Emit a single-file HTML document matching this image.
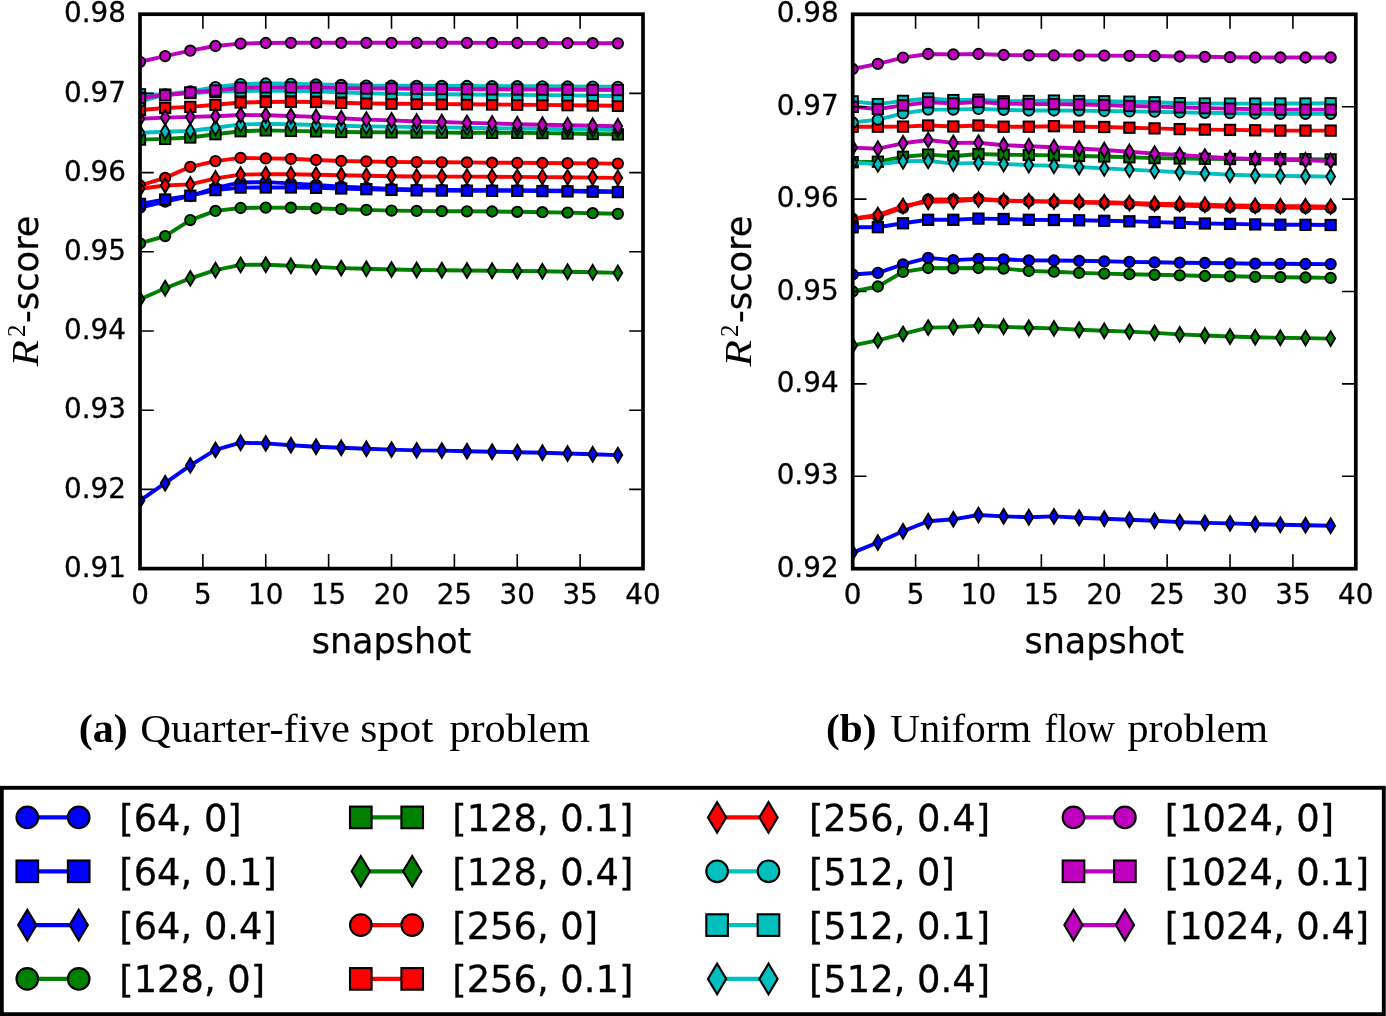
<!DOCTYPE html>
<html lang="en"><head><meta charset="utf-8"><title>R2-score vs snapshot</title>
<style>html,body{margin:0;padding:0;background:#fff}body{width:1386px;height:1016px;overflow:hidden}svg{display:block}</style></head>
<body>
<svg width="1386" height="1016" viewBox="0 0 1386 1016">
<rect width="1386" height="1016" fill="#fff"/>
<clipPath id="clip1"><rect x="140" y="14.2" width="503" height="554.4"/></clipPath>
<g clip-path="url(#clip1)">
<polyline points="140,207.6 165.15,201.7 190.3,196 215.45,187.8 240.6,182.5 265.75,182.1 290.9,183.4 316.05,184.9 341.2,186.6 366.35,187.8 391.5,188.9 416.65,189.5 441.8,189.9 466.95,190 492.1,190.1 517.25,190.2 542.4,190.4 567.55,190.7 592.7,191 617.85,191.4" fill="none" stroke="#0000ff" stroke-width="3.9" stroke-linejoin="round"/>
<g><circle cx="140" cy="207.6" r="5.2" fill="#0000ff" stroke="#000" stroke-width="1.9"/><circle cx="165.15" cy="201.7" r="5.2" fill="#0000ff" stroke="#000" stroke-width="1.9"/><circle cx="190.3" cy="196" r="5.2" fill="#0000ff" stroke="#000" stroke-width="1.9"/><circle cx="215.45" cy="187.8" r="5.2" fill="#0000ff" stroke="#000" stroke-width="1.9"/><circle cx="240.6" cy="182.5" r="5.2" fill="#0000ff" stroke="#000" stroke-width="1.9"/><circle cx="265.75" cy="182.1" r="5.2" fill="#0000ff" stroke="#000" stroke-width="1.9"/><circle cx="290.9" cy="183.4" r="5.2" fill="#0000ff" stroke="#000" stroke-width="1.9"/><circle cx="316.05" cy="184.9" r="5.2" fill="#0000ff" stroke="#000" stroke-width="1.9"/><circle cx="341.2" cy="186.6" r="5.2" fill="#0000ff" stroke="#000" stroke-width="1.9"/><circle cx="366.35" cy="187.8" r="5.2" fill="#0000ff" stroke="#000" stroke-width="1.9"/><circle cx="391.5" cy="188.9" r="5.2" fill="#0000ff" stroke="#000" stroke-width="1.9"/><circle cx="416.65" cy="189.5" r="5.2" fill="#0000ff" stroke="#000" stroke-width="1.9"/><circle cx="441.8" cy="189.9" r="5.2" fill="#0000ff" stroke="#000" stroke-width="1.9"/><circle cx="466.95" cy="190" r="5.2" fill="#0000ff" stroke="#000" stroke-width="1.9"/><circle cx="492.1" cy="190.1" r="5.2" fill="#0000ff" stroke="#000" stroke-width="1.9"/><circle cx="517.25" cy="190.2" r="5.2" fill="#0000ff" stroke="#000" stroke-width="1.9"/><circle cx="542.4" cy="190.4" r="5.2" fill="#0000ff" stroke="#000" stroke-width="1.9"/><circle cx="567.55" cy="190.7" r="5.2" fill="#0000ff" stroke="#000" stroke-width="1.9"/><circle cx="592.7" cy="191" r="5.2" fill="#0000ff" stroke="#000" stroke-width="1.9"/><circle cx="617.85" cy="191.4" r="5.2" fill="#0000ff" stroke="#000" stroke-width="1.9"/></g>
<polyline points="140,203.9 165.15,199.5 190.3,195.7 215.45,190.1 240.6,187.6 265.75,187.5 290.9,187.5 316.05,187.8 341.2,188.5 366.35,189.2 391.5,189.9 416.65,190.4 441.8,190.6 466.95,190.7 492.1,190.8 517.25,190.9 542.4,191.1 567.55,191.4 592.7,191.7 617.85,192.1" fill="none" stroke="#0000ff" stroke-width="3.9" stroke-linejoin="round"/>
<g><rect x="134.8" y="198.7" width="10.4" height="10.4" fill="#0000ff" stroke="#000" stroke-width="1.9"/><rect x="159.95" y="194.3" width="10.4" height="10.4" fill="#0000ff" stroke="#000" stroke-width="1.9"/><rect x="185.1" y="190.5" width="10.4" height="10.4" fill="#0000ff" stroke="#000" stroke-width="1.9"/><rect x="210.25" y="184.9" width="10.4" height="10.4" fill="#0000ff" stroke="#000" stroke-width="1.9"/><rect x="235.4" y="182.4" width="10.4" height="10.4" fill="#0000ff" stroke="#000" stroke-width="1.9"/><rect x="260.55" y="182.3" width="10.4" height="10.4" fill="#0000ff" stroke="#000" stroke-width="1.9"/><rect x="285.7" y="182.3" width="10.4" height="10.4" fill="#0000ff" stroke="#000" stroke-width="1.9"/><rect x="310.85" y="182.6" width="10.4" height="10.4" fill="#0000ff" stroke="#000" stroke-width="1.9"/><rect x="336" y="183.3" width="10.4" height="10.4" fill="#0000ff" stroke="#000" stroke-width="1.9"/><rect x="361.15" y="184" width="10.4" height="10.4" fill="#0000ff" stroke="#000" stroke-width="1.9"/><rect x="386.3" y="184.7" width="10.4" height="10.4" fill="#0000ff" stroke="#000" stroke-width="1.9"/><rect x="411.45" y="185.2" width="10.4" height="10.4" fill="#0000ff" stroke="#000" stroke-width="1.9"/><rect x="436.6" y="185.4" width="10.4" height="10.4" fill="#0000ff" stroke="#000" stroke-width="1.9"/><rect x="461.75" y="185.5" width="10.4" height="10.4" fill="#0000ff" stroke="#000" stroke-width="1.9"/><rect x="486.9" y="185.6" width="10.4" height="10.4" fill="#0000ff" stroke="#000" stroke-width="1.9"/><rect x="512.05" y="185.7" width="10.4" height="10.4" fill="#0000ff" stroke="#000" stroke-width="1.9"/><rect x="537.2" y="185.9" width="10.4" height="10.4" fill="#0000ff" stroke="#000" stroke-width="1.9"/><rect x="562.35" y="186.2" width="10.4" height="10.4" fill="#0000ff" stroke="#000" stroke-width="1.9"/><rect x="587.5" y="186.5" width="10.4" height="10.4" fill="#0000ff" stroke="#000" stroke-width="1.9"/><rect x="612.65" y="186.9" width="10.4" height="10.4" fill="#0000ff" stroke="#000" stroke-width="1.9"/></g>
<polyline points="140,500.6 165.15,483.2 190.3,465.4 215.45,449.9 240.6,442.7 265.75,443.4 290.9,445.2 316.05,446.7 341.2,447.8 366.35,448.8 391.5,449.6 416.65,450.4 441.8,450.6 466.95,451.2 492.1,451.7 517.25,452.2 542.4,452.7 567.55,453.5 592.7,454.3 617.85,455.1" fill="none" stroke="#0000ff" stroke-width="3.9" stroke-linejoin="round"/>
<g><path d="M140 493.25L144.41 500.6L140 507.95L135.59 500.6Z" stroke-linejoin="miter" fill="#0000ff" stroke="#000" stroke-width="1.9"/><path d="M165.15 475.85L169.56 483.2L165.15 490.55L160.74 483.2Z" stroke-linejoin="miter" fill="#0000ff" stroke="#000" stroke-width="1.9"/><path d="M190.3 458.05L194.71 465.4L190.3 472.75L185.89 465.4Z" stroke-linejoin="miter" fill="#0000ff" stroke="#000" stroke-width="1.9"/><path d="M215.45 442.55L219.86 449.9L215.45 457.25L211.04 449.9Z" stroke-linejoin="miter" fill="#0000ff" stroke="#000" stroke-width="1.9"/><path d="M240.6 435.35L245.01 442.7L240.6 450.05L236.19 442.7Z" stroke-linejoin="miter" fill="#0000ff" stroke="#000" stroke-width="1.9"/><path d="M265.75 436.05L270.16 443.4L265.75 450.75L261.34 443.4Z" stroke-linejoin="miter" fill="#0000ff" stroke="#000" stroke-width="1.9"/><path d="M290.9 437.85L295.31 445.2L290.9 452.55L286.49 445.2Z" stroke-linejoin="miter" fill="#0000ff" stroke="#000" stroke-width="1.9"/><path d="M316.05 439.35L320.46 446.7L316.05 454.05L311.64 446.7Z" stroke-linejoin="miter" fill="#0000ff" stroke="#000" stroke-width="1.9"/><path d="M341.2 440.45L345.61 447.8L341.2 455.15L336.79 447.8Z" stroke-linejoin="miter" fill="#0000ff" stroke="#000" stroke-width="1.9"/><path d="M366.35 441.45L370.76 448.8L366.35 456.15L361.94 448.8Z" stroke-linejoin="miter" fill="#0000ff" stroke="#000" stroke-width="1.9"/><path d="M391.5 442.25L395.91 449.6L391.5 456.95L387.09 449.6Z" stroke-linejoin="miter" fill="#0000ff" stroke="#000" stroke-width="1.9"/><path d="M416.65 443.05L421.06 450.4L416.65 457.75L412.24 450.4Z" stroke-linejoin="miter" fill="#0000ff" stroke="#000" stroke-width="1.9"/><path d="M441.8 443.25L446.21 450.6L441.8 457.95L437.39 450.6Z" stroke-linejoin="miter" fill="#0000ff" stroke="#000" stroke-width="1.9"/><path d="M466.95 443.85L471.36 451.2L466.95 458.55L462.54 451.2Z" stroke-linejoin="miter" fill="#0000ff" stroke="#000" stroke-width="1.9"/><path d="M492.1 444.35L496.51 451.7L492.1 459.05L487.69 451.7Z" stroke-linejoin="miter" fill="#0000ff" stroke="#000" stroke-width="1.9"/><path d="M517.25 444.85L521.66 452.2L517.25 459.55L512.84 452.2Z" stroke-linejoin="miter" fill="#0000ff" stroke="#000" stroke-width="1.9"/><path d="M542.4 445.35L546.81 452.7L542.4 460.05L537.99 452.7Z" stroke-linejoin="miter" fill="#0000ff" stroke="#000" stroke-width="1.9"/><path d="M567.55 446.15L571.96 453.5L567.55 460.85L563.14 453.5Z" stroke-linejoin="miter" fill="#0000ff" stroke="#000" stroke-width="1.9"/><path d="M592.7 446.95L597.11 454.3L592.7 461.65L588.29 454.3Z" stroke-linejoin="miter" fill="#0000ff" stroke="#000" stroke-width="1.9"/><path d="M617.85 447.75L622.26 455.1L617.85 462.45L613.44 455.1Z" stroke-linejoin="miter" fill="#0000ff" stroke="#000" stroke-width="1.9"/></g>
<polyline points="140,243.4 165.15,236.1 190.3,220.1 215.45,210.9 240.6,208 265.75,207.6 290.9,207.7 316.05,208.3 341.2,209.2 366.35,209.9 391.5,210.6 416.65,210.9 441.8,211.2 466.95,211.3 492.1,211.5 517.25,211.8 542.4,212.2 567.55,212.6 592.7,213.2 617.85,213.8" fill="none" stroke="#008000" stroke-width="3.9" stroke-linejoin="round"/>
<g><circle cx="140" cy="243.4" r="5.2" fill="#008000" stroke="#000" stroke-width="1.9"/><circle cx="165.15" cy="236.1" r="5.2" fill="#008000" stroke="#000" stroke-width="1.9"/><circle cx="190.3" cy="220.1" r="5.2" fill="#008000" stroke="#000" stroke-width="1.9"/><circle cx="215.45" cy="210.9" r="5.2" fill="#008000" stroke="#000" stroke-width="1.9"/><circle cx="240.6" cy="208" r="5.2" fill="#008000" stroke="#000" stroke-width="1.9"/><circle cx="265.75" cy="207.6" r="5.2" fill="#008000" stroke="#000" stroke-width="1.9"/><circle cx="290.9" cy="207.7" r="5.2" fill="#008000" stroke="#000" stroke-width="1.9"/><circle cx="316.05" cy="208.3" r="5.2" fill="#008000" stroke="#000" stroke-width="1.9"/><circle cx="341.2" cy="209.2" r="5.2" fill="#008000" stroke="#000" stroke-width="1.9"/><circle cx="366.35" cy="209.9" r="5.2" fill="#008000" stroke="#000" stroke-width="1.9"/><circle cx="391.5" cy="210.6" r="5.2" fill="#008000" stroke="#000" stroke-width="1.9"/><circle cx="416.65" cy="210.9" r="5.2" fill="#008000" stroke="#000" stroke-width="1.9"/><circle cx="441.8" cy="211.2" r="5.2" fill="#008000" stroke="#000" stroke-width="1.9"/><circle cx="466.95" cy="211.3" r="5.2" fill="#008000" stroke="#000" stroke-width="1.9"/><circle cx="492.1" cy="211.5" r="5.2" fill="#008000" stroke="#000" stroke-width="1.9"/><circle cx="517.25" cy="211.8" r="5.2" fill="#008000" stroke="#000" stroke-width="1.9"/><circle cx="542.4" cy="212.2" r="5.2" fill="#008000" stroke="#000" stroke-width="1.9"/><circle cx="567.55" cy="212.6" r="5.2" fill="#008000" stroke="#000" stroke-width="1.9"/><circle cx="592.7" cy="213.2" r="5.2" fill="#008000" stroke="#000" stroke-width="1.9"/><circle cx="617.85" cy="213.8" r="5.2" fill="#008000" stroke="#000" stroke-width="1.9"/></g>
<polyline points="140,139.6 165.15,138.9 190.3,137.5 215.45,134.2 240.6,131.2 265.75,130.4 290.9,130.9 316.05,131.4 341.2,132 366.35,132.3 391.5,132.4 416.65,132.5 441.8,132.6 466.95,132.7 492.1,132.8 517.25,132.8 542.4,133.1 567.55,133.5 592.7,134 617.85,134.4" fill="none" stroke="#008000" stroke-width="3.9" stroke-linejoin="round"/>
<g><rect x="134.8" y="134.4" width="10.4" height="10.4" fill="#008000" stroke="#000" stroke-width="1.9"/><rect x="159.95" y="133.7" width="10.4" height="10.4" fill="#008000" stroke="#000" stroke-width="1.9"/><rect x="185.1" y="132.3" width="10.4" height="10.4" fill="#008000" stroke="#000" stroke-width="1.9"/><rect x="210.25" y="129" width="10.4" height="10.4" fill="#008000" stroke="#000" stroke-width="1.9"/><rect x="235.4" y="126" width="10.4" height="10.4" fill="#008000" stroke="#000" stroke-width="1.9"/><rect x="260.55" y="125.2" width="10.4" height="10.4" fill="#008000" stroke="#000" stroke-width="1.9"/><rect x="285.7" y="125.7" width="10.4" height="10.4" fill="#008000" stroke="#000" stroke-width="1.9"/><rect x="310.85" y="126.2" width="10.4" height="10.4" fill="#008000" stroke="#000" stroke-width="1.9"/><rect x="336" y="126.8" width="10.4" height="10.4" fill="#008000" stroke="#000" stroke-width="1.9"/><rect x="361.15" y="127.1" width="10.4" height="10.4" fill="#008000" stroke="#000" stroke-width="1.9"/><rect x="386.3" y="127.2" width="10.4" height="10.4" fill="#008000" stroke="#000" stroke-width="1.9"/><rect x="411.45" y="127.3" width="10.4" height="10.4" fill="#008000" stroke="#000" stroke-width="1.9"/><rect x="436.6" y="127.4" width="10.4" height="10.4" fill="#008000" stroke="#000" stroke-width="1.9"/><rect x="461.75" y="127.5" width="10.4" height="10.4" fill="#008000" stroke="#000" stroke-width="1.9"/><rect x="486.9" y="127.6" width="10.4" height="10.4" fill="#008000" stroke="#000" stroke-width="1.9"/><rect x="512.05" y="127.6" width="10.4" height="10.4" fill="#008000" stroke="#000" stroke-width="1.9"/><rect x="537.2" y="127.9" width="10.4" height="10.4" fill="#008000" stroke="#000" stroke-width="1.9"/><rect x="562.35" y="128.3" width="10.4" height="10.4" fill="#008000" stroke="#000" stroke-width="1.9"/><rect x="587.5" y="128.8" width="10.4" height="10.4" fill="#008000" stroke="#000" stroke-width="1.9"/><rect x="612.65" y="129.2" width="10.4" height="10.4" fill="#008000" stroke="#000" stroke-width="1.9"/></g>
<polyline points="140,299.3 165.15,288.2 190.3,278.4 215.45,270.1 240.6,264.9 265.75,264.7 290.9,265.8 316.05,266.9 341.2,268.1 366.35,268.8 391.5,269.5 416.65,270 441.8,270.2 466.95,270.5 492.1,270.8 517.25,271 542.4,271.3 567.55,271.7 592.7,272.3 617.85,272.9" fill="none" stroke="#008000" stroke-width="3.9" stroke-linejoin="round"/>
<g><path d="M140 291.95L144.41 299.3L140 306.65L135.59 299.3Z" stroke-linejoin="miter" fill="#008000" stroke="#000" stroke-width="1.9"/><path d="M165.15 280.85L169.56 288.2L165.15 295.55L160.74 288.2Z" stroke-linejoin="miter" fill="#008000" stroke="#000" stroke-width="1.9"/><path d="M190.3 271.05L194.71 278.4L190.3 285.75L185.89 278.4Z" stroke-linejoin="miter" fill="#008000" stroke="#000" stroke-width="1.9"/><path d="M215.45 262.75L219.86 270.1L215.45 277.45L211.04 270.1Z" stroke-linejoin="miter" fill="#008000" stroke="#000" stroke-width="1.9"/><path d="M240.6 257.55L245.01 264.9L240.6 272.25L236.19 264.9Z" stroke-linejoin="miter" fill="#008000" stroke="#000" stroke-width="1.9"/><path d="M265.75 257.35L270.16 264.7L265.75 272.05L261.34 264.7Z" stroke-linejoin="miter" fill="#008000" stroke="#000" stroke-width="1.9"/><path d="M290.9 258.45L295.31 265.8L290.9 273.15L286.49 265.8Z" stroke-linejoin="miter" fill="#008000" stroke="#000" stroke-width="1.9"/><path d="M316.05 259.55L320.46 266.9L316.05 274.25L311.64 266.9Z" stroke-linejoin="miter" fill="#008000" stroke="#000" stroke-width="1.9"/><path d="M341.2 260.75L345.61 268.1L341.2 275.45L336.79 268.1Z" stroke-linejoin="miter" fill="#008000" stroke="#000" stroke-width="1.9"/><path d="M366.35 261.45L370.76 268.8L366.35 276.15L361.94 268.8Z" stroke-linejoin="miter" fill="#008000" stroke="#000" stroke-width="1.9"/><path d="M391.5 262.15L395.91 269.5L391.5 276.85L387.09 269.5Z" stroke-linejoin="miter" fill="#008000" stroke="#000" stroke-width="1.9"/><path d="M416.65 262.65L421.06 270L416.65 277.35L412.24 270Z" stroke-linejoin="miter" fill="#008000" stroke="#000" stroke-width="1.9"/><path d="M441.8 262.85L446.21 270.2L441.8 277.55L437.39 270.2Z" stroke-linejoin="miter" fill="#008000" stroke="#000" stroke-width="1.9"/><path d="M466.95 263.15L471.36 270.5L466.95 277.85L462.54 270.5Z" stroke-linejoin="miter" fill="#008000" stroke="#000" stroke-width="1.9"/><path d="M492.1 263.45L496.51 270.8L492.1 278.15L487.69 270.8Z" stroke-linejoin="miter" fill="#008000" stroke="#000" stroke-width="1.9"/><path d="M517.25 263.65L521.66 271L517.25 278.35L512.84 271Z" stroke-linejoin="miter" fill="#008000" stroke="#000" stroke-width="1.9"/><path d="M542.4 263.95L546.81 271.3L542.4 278.65L537.99 271.3Z" stroke-linejoin="miter" fill="#008000" stroke="#000" stroke-width="1.9"/><path d="M567.55 264.35L571.96 271.7L567.55 279.05L563.14 271.7Z" stroke-linejoin="miter" fill="#008000" stroke="#000" stroke-width="1.9"/><path d="M592.7 264.95L597.11 272.3L592.7 279.65L588.29 272.3Z" stroke-linejoin="miter" fill="#008000" stroke="#000" stroke-width="1.9"/><path d="M617.85 265.55L622.26 272.9L617.85 280.25L613.44 272.9Z" stroke-linejoin="miter" fill="#008000" stroke="#000" stroke-width="1.9"/></g>
<polyline points="140,185.5 165.15,177.9 190.3,166.8 215.45,161.1 240.6,157.9 265.75,158.4 290.9,158.8 316.05,160 341.2,161 366.35,161.4 391.5,162 416.65,162.1 441.8,162.3 466.95,162.4 492.1,162.7 517.25,162.8 542.4,163 567.55,163.2 592.7,163.4 617.85,163.6" fill="none" stroke="#ff0000" stroke-width="3.9" stroke-linejoin="round"/>
<g><circle cx="140" cy="185.5" r="5.2" fill="#ff0000" stroke="#000" stroke-width="1.9"/><circle cx="165.15" cy="177.9" r="5.2" fill="#ff0000" stroke="#000" stroke-width="1.9"/><circle cx="190.3" cy="166.8" r="5.2" fill="#ff0000" stroke="#000" stroke-width="1.9"/><circle cx="215.45" cy="161.1" r="5.2" fill="#ff0000" stroke="#000" stroke-width="1.9"/><circle cx="240.6" cy="157.9" r="5.2" fill="#ff0000" stroke="#000" stroke-width="1.9"/><circle cx="265.75" cy="158.4" r="5.2" fill="#ff0000" stroke="#000" stroke-width="1.9"/><circle cx="290.9" cy="158.8" r="5.2" fill="#ff0000" stroke="#000" stroke-width="1.9"/><circle cx="316.05" cy="160" r="5.2" fill="#ff0000" stroke="#000" stroke-width="1.9"/><circle cx="341.2" cy="161" r="5.2" fill="#ff0000" stroke="#000" stroke-width="1.9"/><circle cx="366.35" cy="161.4" r="5.2" fill="#ff0000" stroke="#000" stroke-width="1.9"/><circle cx="391.5" cy="162" r="5.2" fill="#ff0000" stroke="#000" stroke-width="1.9"/><circle cx="416.65" cy="162.1" r="5.2" fill="#ff0000" stroke="#000" stroke-width="1.9"/><circle cx="441.8" cy="162.3" r="5.2" fill="#ff0000" stroke="#000" stroke-width="1.9"/><circle cx="466.95" cy="162.4" r="5.2" fill="#ff0000" stroke="#000" stroke-width="1.9"/><circle cx="492.1" cy="162.7" r="5.2" fill="#ff0000" stroke="#000" stroke-width="1.9"/><circle cx="517.25" cy="162.8" r="5.2" fill="#ff0000" stroke="#000" stroke-width="1.9"/><circle cx="542.4" cy="163" r="5.2" fill="#ff0000" stroke="#000" stroke-width="1.9"/><circle cx="567.55" cy="163.2" r="5.2" fill="#ff0000" stroke="#000" stroke-width="1.9"/><circle cx="592.7" cy="163.4" r="5.2" fill="#ff0000" stroke="#000" stroke-width="1.9"/><circle cx="617.85" cy="163.6" r="5.2" fill="#ff0000" stroke="#000" stroke-width="1.9"/></g>
<polyline points="140,110 165.15,108 190.3,106.9 215.45,104.8 240.6,102.5 265.75,102 290.9,101.8 316.05,102 341.2,102.8 366.35,103.5 391.5,103.7 416.65,103.9 441.8,104.1 466.95,104.3 492.1,104.5 517.25,104.7 542.4,104.9 567.55,105.2 592.7,105.5 617.85,105.8" fill="none" stroke="#ff0000" stroke-width="3.9" stroke-linejoin="round"/>
<g><rect x="134.8" y="104.8" width="10.4" height="10.4" fill="#ff0000" stroke="#000" stroke-width="1.9"/><rect x="159.95" y="102.8" width="10.4" height="10.4" fill="#ff0000" stroke="#000" stroke-width="1.9"/><rect x="185.1" y="101.7" width="10.4" height="10.4" fill="#ff0000" stroke="#000" stroke-width="1.9"/><rect x="210.25" y="99.6" width="10.4" height="10.4" fill="#ff0000" stroke="#000" stroke-width="1.9"/><rect x="235.4" y="97.3" width="10.4" height="10.4" fill="#ff0000" stroke="#000" stroke-width="1.9"/><rect x="260.55" y="96.8" width="10.4" height="10.4" fill="#ff0000" stroke="#000" stroke-width="1.9"/><rect x="285.7" y="96.6" width="10.4" height="10.4" fill="#ff0000" stroke="#000" stroke-width="1.9"/><rect x="310.85" y="96.8" width="10.4" height="10.4" fill="#ff0000" stroke="#000" stroke-width="1.9"/><rect x="336" y="97.6" width="10.4" height="10.4" fill="#ff0000" stroke="#000" stroke-width="1.9"/><rect x="361.15" y="98.3" width="10.4" height="10.4" fill="#ff0000" stroke="#000" stroke-width="1.9"/><rect x="386.3" y="98.5" width="10.4" height="10.4" fill="#ff0000" stroke="#000" stroke-width="1.9"/><rect x="411.45" y="98.7" width="10.4" height="10.4" fill="#ff0000" stroke="#000" stroke-width="1.9"/><rect x="436.6" y="98.9" width="10.4" height="10.4" fill="#ff0000" stroke="#000" stroke-width="1.9"/><rect x="461.75" y="99.1" width="10.4" height="10.4" fill="#ff0000" stroke="#000" stroke-width="1.9"/><rect x="486.9" y="99.3" width="10.4" height="10.4" fill="#ff0000" stroke="#000" stroke-width="1.9"/><rect x="512.05" y="99.5" width="10.4" height="10.4" fill="#ff0000" stroke="#000" stroke-width="1.9"/><rect x="537.2" y="99.7" width="10.4" height="10.4" fill="#ff0000" stroke="#000" stroke-width="1.9"/><rect x="562.35" y="100" width="10.4" height="10.4" fill="#ff0000" stroke="#000" stroke-width="1.9"/><rect x="587.5" y="100.3" width="10.4" height="10.4" fill="#ff0000" stroke="#000" stroke-width="1.9"/><rect x="612.65" y="100.6" width="10.4" height="10.4" fill="#ff0000" stroke="#000" stroke-width="1.9"/></g>
<polyline points="140,188.7 165.15,185.5 190.3,184.4 215.45,178.4 240.6,174.6 265.75,174.2 290.9,174.3 316.05,174.7 341.2,175.2 366.35,175.7 391.5,176.2 416.65,176.5 441.8,176.6 466.95,176.6 492.1,176.8 517.25,176.9 542.4,177.1 567.55,177.3 592.7,177.6 617.85,177.9" fill="none" stroke="#ff0000" stroke-width="3.9" stroke-linejoin="round"/>
<g><path d="M140 181.35L144.41 188.7L140 196.05L135.59 188.7Z" stroke-linejoin="miter" fill="#ff0000" stroke="#000" stroke-width="1.9"/><path d="M165.15 178.15L169.56 185.5L165.15 192.85L160.74 185.5Z" stroke-linejoin="miter" fill="#ff0000" stroke="#000" stroke-width="1.9"/><path d="M190.3 177.05L194.71 184.4L190.3 191.75L185.89 184.4Z" stroke-linejoin="miter" fill="#ff0000" stroke="#000" stroke-width="1.9"/><path d="M215.45 171.05L219.86 178.4L215.45 185.75L211.04 178.4Z" stroke-linejoin="miter" fill="#ff0000" stroke="#000" stroke-width="1.9"/><path d="M240.6 167.25L245.01 174.6L240.6 181.95L236.19 174.6Z" stroke-linejoin="miter" fill="#ff0000" stroke="#000" stroke-width="1.9"/><path d="M265.75 166.85L270.16 174.2L265.75 181.55L261.34 174.2Z" stroke-linejoin="miter" fill="#ff0000" stroke="#000" stroke-width="1.9"/><path d="M290.9 166.95L295.31 174.3L290.9 181.65L286.49 174.3Z" stroke-linejoin="miter" fill="#ff0000" stroke="#000" stroke-width="1.9"/><path d="M316.05 167.35L320.46 174.7L316.05 182.05L311.64 174.7Z" stroke-linejoin="miter" fill="#ff0000" stroke="#000" stroke-width="1.9"/><path d="M341.2 167.85L345.61 175.2L341.2 182.55L336.79 175.2Z" stroke-linejoin="miter" fill="#ff0000" stroke="#000" stroke-width="1.9"/><path d="M366.35 168.35L370.76 175.7L366.35 183.05L361.94 175.7Z" stroke-linejoin="miter" fill="#ff0000" stroke="#000" stroke-width="1.9"/><path d="M391.5 168.85L395.91 176.2L391.5 183.55L387.09 176.2Z" stroke-linejoin="miter" fill="#ff0000" stroke="#000" stroke-width="1.9"/><path d="M416.65 169.15L421.06 176.5L416.65 183.85L412.24 176.5Z" stroke-linejoin="miter" fill="#ff0000" stroke="#000" stroke-width="1.9"/><path d="M441.8 169.25L446.21 176.6L441.8 183.95L437.39 176.6Z" stroke-linejoin="miter" fill="#ff0000" stroke="#000" stroke-width="1.9"/><path d="M466.95 169.25L471.36 176.6L466.95 183.95L462.54 176.6Z" stroke-linejoin="miter" fill="#ff0000" stroke="#000" stroke-width="1.9"/><path d="M492.1 169.45L496.51 176.8L492.1 184.15L487.69 176.8Z" stroke-linejoin="miter" fill="#ff0000" stroke="#000" stroke-width="1.9"/><path d="M517.25 169.55L521.66 176.9L517.25 184.25L512.84 176.9Z" stroke-linejoin="miter" fill="#ff0000" stroke="#000" stroke-width="1.9"/><path d="M542.4 169.75L546.81 177.1L542.4 184.45L537.99 177.1Z" stroke-linejoin="miter" fill="#ff0000" stroke="#000" stroke-width="1.9"/><path d="M567.55 169.95L571.96 177.3L567.55 184.65L563.14 177.3Z" stroke-linejoin="miter" fill="#ff0000" stroke="#000" stroke-width="1.9"/><path d="M592.7 170.25L597.11 177.6L592.7 184.95L588.29 177.6Z" stroke-linejoin="miter" fill="#ff0000" stroke="#000" stroke-width="1.9"/><path d="M617.85 170.55L622.26 177.9L617.85 185.25L613.44 177.9Z" stroke-linejoin="miter" fill="#ff0000" stroke="#000" stroke-width="1.9"/></g>
<polyline points="140,101.7 165.15,94.5 190.3,91.4 215.45,87.1 240.6,84.1 265.75,83.5 290.9,83.8 316.05,84.4 341.2,84.9 366.35,85.6 391.5,85.7 416.65,85.8 441.8,85.9 466.95,86 492.1,86.2 517.25,86.2 542.4,86.3 567.55,86.5 592.7,86.6 617.85,86.8" fill="none" stroke="#00bfbf" stroke-width="3.9" stroke-linejoin="round"/>
<g><circle cx="140" cy="101.7" r="5.2" fill="#00bfbf" stroke="#000" stroke-width="1.9"/><circle cx="165.15" cy="94.5" r="5.2" fill="#00bfbf" stroke="#000" stroke-width="1.9"/><circle cx="190.3" cy="91.4" r="5.2" fill="#00bfbf" stroke="#000" stroke-width="1.9"/><circle cx="215.45" cy="87.1" r="5.2" fill="#00bfbf" stroke="#000" stroke-width="1.9"/><circle cx="240.6" cy="84.1" r="5.2" fill="#00bfbf" stroke="#000" stroke-width="1.9"/><circle cx="265.75" cy="83.5" r="5.2" fill="#00bfbf" stroke="#000" stroke-width="1.9"/><circle cx="290.9" cy="83.8" r="5.2" fill="#00bfbf" stroke="#000" stroke-width="1.9"/><circle cx="316.05" cy="84.4" r="5.2" fill="#00bfbf" stroke="#000" stroke-width="1.9"/><circle cx="341.2" cy="84.9" r="5.2" fill="#00bfbf" stroke="#000" stroke-width="1.9"/><circle cx="366.35" cy="85.6" r="5.2" fill="#00bfbf" stroke="#000" stroke-width="1.9"/><circle cx="391.5" cy="85.7" r="5.2" fill="#00bfbf" stroke="#000" stroke-width="1.9"/><circle cx="416.65" cy="85.8" r="5.2" fill="#00bfbf" stroke="#000" stroke-width="1.9"/><circle cx="441.8" cy="85.9" r="5.2" fill="#00bfbf" stroke="#000" stroke-width="1.9"/><circle cx="466.95" cy="86" r="5.2" fill="#00bfbf" stroke="#000" stroke-width="1.9"/><circle cx="492.1" cy="86.2" r="5.2" fill="#00bfbf" stroke="#000" stroke-width="1.9"/><circle cx="517.25" cy="86.2" r="5.2" fill="#00bfbf" stroke="#000" stroke-width="1.9"/><circle cx="542.4" cy="86.3" r="5.2" fill="#00bfbf" stroke="#000" stroke-width="1.9"/><circle cx="567.55" cy="86.5" r="5.2" fill="#00bfbf" stroke="#000" stroke-width="1.9"/><circle cx="592.7" cy="86.6" r="5.2" fill="#00bfbf" stroke="#000" stroke-width="1.9"/><circle cx="617.85" cy="86.8" r="5.2" fill="#00bfbf" stroke="#000" stroke-width="1.9"/></g>
<polyline points="140,94.3 165.15,94.6 190.3,93 215.45,91.9 240.6,91 265.75,90.7 290.9,90.9 316.05,91.3 341.2,92.2 366.35,93.2 391.5,93.9 416.65,94.1 441.8,94.3 466.95,94.5 492.1,94.8 517.25,94.9 542.4,95.1 567.55,95.4 592.7,95.7 617.85,96" fill="none" stroke="#00bfbf" stroke-width="3.9" stroke-linejoin="round"/>
<g><rect x="134.8" y="89.1" width="10.4" height="10.4" fill="#00bfbf" stroke="#000" stroke-width="1.9"/><rect x="159.95" y="89.4" width="10.4" height="10.4" fill="#00bfbf" stroke="#000" stroke-width="1.9"/><rect x="185.1" y="87.8" width="10.4" height="10.4" fill="#00bfbf" stroke="#000" stroke-width="1.9"/><rect x="210.25" y="86.7" width="10.4" height="10.4" fill="#00bfbf" stroke="#000" stroke-width="1.9"/><rect x="235.4" y="85.8" width="10.4" height="10.4" fill="#00bfbf" stroke="#000" stroke-width="1.9"/><rect x="260.55" y="85.5" width="10.4" height="10.4" fill="#00bfbf" stroke="#000" stroke-width="1.9"/><rect x="285.7" y="85.7" width="10.4" height="10.4" fill="#00bfbf" stroke="#000" stroke-width="1.9"/><rect x="310.85" y="86.1" width="10.4" height="10.4" fill="#00bfbf" stroke="#000" stroke-width="1.9"/><rect x="336" y="87" width="10.4" height="10.4" fill="#00bfbf" stroke="#000" stroke-width="1.9"/><rect x="361.15" y="88" width="10.4" height="10.4" fill="#00bfbf" stroke="#000" stroke-width="1.9"/><rect x="386.3" y="88.7" width="10.4" height="10.4" fill="#00bfbf" stroke="#000" stroke-width="1.9"/><rect x="411.45" y="88.9" width="10.4" height="10.4" fill="#00bfbf" stroke="#000" stroke-width="1.9"/><rect x="436.6" y="89.1" width="10.4" height="10.4" fill="#00bfbf" stroke="#000" stroke-width="1.9"/><rect x="461.75" y="89.3" width="10.4" height="10.4" fill="#00bfbf" stroke="#000" stroke-width="1.9"/><rect x="486.9" y="89.6" width="10.4" height="10.4" fill="#00bfbf" stroke="#000" stroke-width="1.9"/><rect x="512.05" y="89.7" width="10.4" height="10.4" fill="#00bfbf" stroke="#000" stroke-width="1.9"/><rect x="537.2" y="89.9" width="10.4" height="10.4" fill="#00bfbf" stroke="#000" stroke-width="1.9"/><rect x="562.35" y="90.2" width="10.4" height="10.4" fill="#00bfbf" stroke="#000" stroke-width="1.9"/><rect x="587.5" y="90.5" width="10.4" height="10.4" fill="#00bfbf" stroke="#000" stroke-width="1.9"/><rect x="612.65" y="90.8" width="10.4" height="10.4" fill="#00bfbf" stroke="#000" stroke-width="1.9"/></g>
<polyline points="140,132.8 165.15,131.7 190.3,131 215.45,127.7 240.6,124.4 265.75,123.9 290.9,124.3 316.05,125 341.2,125.8 366.35,126.4 391.5,126.6 416.65,127 441.8,127.4 466.95,127.8 492.1,128.2 517.25,128.5 542.4,128.8 567.55,129.2 592.7,129.6 617.85,130" fill="none" stroke="#00bfbf" stroke-width="3.9" stroke-linejoin="round"/>
<g><path d="M140 125.45L144.41 132.8L140 140.15L135.59 132.8Z" stroke-linejoin="miter" fill="#00bfbf" stroke="#000" stroke-width="1.9"/><path d="M165.15 124.35L169.56 131.7L165.15 139.05L160.74 131.7Z" stroke-linejoin="miter" fill="#00bfbf" stroke="#000" stroke-width="1.9"/><path d="M190.3 123.65L194.71 131L190.3 138.35L185.89 131Z" stroke-linejoin="miter" fill="#00bfbf" stroke="#000" stroke-width="1.9"/><path d="M215.45 120.35L219.86 127.7L215.45 135.05L211.04 127.7Z" stroke-linejoin="miter" fill="#00bfbf" stroke="#000" stroke-width="1.9"/><path d="M240.6 117.05L245.01 124.4L240.6 131.75L236.19 124.4Z" stroke-linejoin="miter" fill="#00bfbf" stroke="#000" stroke-width="1.9"/><path d="M265.75 116.55L270.16 123.9L265.75 131.25L261.34 123.9Z" stroke-linejoin="miter" fill="#00bfbf" stroke="#000" stroke-width="1.9"/><path d="M290.9 116.95L295.31 124.3L290.9 131.65L286.49 124.3Z" stroke-linejoin="miter" fill="#00bfbf" stroke="#000" stroke-width="1.9"/><path d="M316.05 117.65L320.46 125L316.05 132.35L311.64 125Z" stroke-linejoin="miter" fill="#00bfbf" stroke="#000" stroke-width="1.9"/><path d="M341.2 118.45L345.61 125.8L341.2 133.15L336.79 125.8Z" stroke-linejoin="miter" fill="#00bfbf" stroke="#000" stroke-width="1.9"/><path d="M366.35 119.05L370.76 126.4L366.35 133.75L361.94 126.4Z" stroke-linejoin="miter" fill="#00bfbf" stroke="#000" stroke-width="1.9"/><path d="M391.5 119.25L395.91 126.6L391.5 133.95L387.09 126.6Z" stroke-linejoin="miter" fill="#00bfbf" stroke="#000" stroke-width="1.9"/><path d="M416.65 119.65L421.06 127L416.65 134.35L412.24 127Z" stroke-linejoin="miter" fill="#00bfbf" stroke="#000" stroke-width="1.9"/><path d="M441.8 120.05L446.21 127.4L441.8 134.75L437.39 127.4Z" stroke-linejoin="miter" fill="#00bfbf" stroke="#000" stroke-width="1.9"/><path d="M466.95 120.45L471.36 127.8L466.95 135.15L462.54 127.8Z" stroke-linejoin="miter" fill="#00bfbf" stroke="#000" stroke-width="1.9"/><path d="M492.1 120.85L496.51 128.2L492.1 135.55L487.69 128.2Z" stroke-linejoin="miter" fill="#00bfbf" stroke="#000" stroke-width="1.9"/><path d="M517.25 121.15L521.66 128.5L517.25 135.85L512.84 128.5Z" stroke-linejoin="miter" fill="#00bfbf" stroke="#000" stroke-width="1.9"/><path d="M542.4 121.45L546.81 128.8L542.4 136.15L537.99 128.8Z" stroke-linejoin="miter" fill="#00bfbf" stroke="#000" stroke-width="1.9"/><path d="M567.55 121.85L571.96 129.2L567.55 136.55L563.14 129.2Z" stroke-linejoin="miter" fill="#00bfbf" stroke="#000" stroke-width="1.9"/><path d="M592.7 122.25L597.11 129.6L592.7 136.95L588.29 129.6Z" stroke-linejoin="miter" fill="#00bfbf" stroke="#000" stroke-width="1.9"/><path d="M617.85 122.65L622.26 130L617.85 137.35L613.44 130Z" stroke-linejoin="miter" fill="#00bfbf" stroke="#000" stroke-width="1.9"/></g>
<polyline points="140,61.8 165.15,56.1 190.3,50.7 215.45,46 240.6,43.6 265.75,43 290.9,42.8 316.05,42.8 341.2,42.8 366.35,42.8 391.5,42.8 416.65,42.8 441.8,42.8 466.95,42.8 492.1,42.9 517.25,43 542.4,43 567.55,43.1 592.7,43.2 617.85,43.3" fill="none" stroke="#bf00bf" stroke-width="3.9" stroke-linejoin="round"/>
<g><circle cx="140" cy="61.8" r="5.2" fill="#bf00bf" stroke="#000" stroke-width="1.9"/><circle cx="165.15" cy="56.1" r="5.2" fill="#bf00bf" stroke="#000" stroke-width="1.9"/><circle cx="190.3" cy="50.7" r="5.2" fill="#bf00bf" stroke="#000" stroke-width="1.9"/><circle cx="215.45" cy="46" r="5.2" fill="#bf00bf" stroke="#000" stroke-width="1.9"/><circle cx="240.6" cy="43.6" r="5.2" fill="#bf00bf" stroke="#000" stroke-width="1.9"/><circle cx="265.75" cy="43" r="5.2" fill="#bf00bf" stroke="#000" stroke-width="1.9"/><circle cx="290.9" cy="42.8" r="5.2" fill="#bf00bf" stroke="#000" stroke-width="1.9"/><circle cx="316.05" cy="42.8" r="5.2" fill="#bf00bf" stroke="#000" stroke-width="1.9"/><circle cx="341.2" cy="42.8" r="5.2" fill="#bf00bf" stroke="#000" stroke-width="1.9"/><circle cx="366.35" cy="42.8" r="5.2" fill="#bf00bf" stroke="#000" stroke-width="1.9"/><circle cx="391.5" cy="42.8" r="5.2" fill="#bf00bf" stroke="#000" stroke-width="1.9"/><circle cx="416.65" cy="42.8" r="5.2" fill="#bf00bf" stroke="#000" stroke-width="1.9"/><circle cx="441.8" cy="42.8" r="5.2" fill="#bf00bf" stroke="#000" stroke-width="1.9"/><circle cx="466.95" cy="42.8" r="5.2" fill="#bf00bf" stroke="#000" stroke-width="1.9"/><circle cx="492.1" cy="42.9" r="5.2" fill="#bf00bf" stroke="#000" stroke-width="1.9"/><circle cx="517.25" cy="43" r="5.2" fill="#bf00bf" stroke="#000" stroke-width="1.9"/><circle cx="542.4" cy="43" r="5.2" fill="#bf00bf" stroke="#000" stroke-width="1.9"/><circle cx="567.55" cy="43.1" r="5.2" fill="#bf00bf" stroke="#000" stroke-width="1.9"/><circle cx="592.7" cy="43.2" r="5.2" fill="#bf00bf" stroke="#000" stroke-width="1.9"/><circle cx="617.85" cy="43.3" r="5.2" fill="#bf00bf" stroke="#000" stroke-width="1.9"/></g>
<polyline points="140,97.8 165.15,95.3 190.3,92.5 215.45,90.5 240.6,87.6 265.75,87.4 290.9,87.4 316.05,87.6 341.2,88.1 366.35,88.5 391.5,88.5 416.65,88.7 441.8,89 466.95,89.2 492.1,89.3 517.25,89.5 542.4,89.6 567.55,89.7 592.7,89.9 617.85,90" fill="none" stroke="#bf00bf" stroke-width="3.9" stroke-linejoin="round"/>
<g><rect x="134.8" y="92.6" width="10.4" height="10.4" fill="#bf00bf" stroke="#000" stroke-width="1.9"/><rect x="159.95" y="90.1" width="10.4" height="10.4" fill="#bf00bf" stroke="#000" stroke-width="1.9"/><rect x="185.1" y="87.3" width="10.4" height="10.4" fill="#bf00bf" stroke="#000" stroke-width="1.9"/><rect x="210.25" y="85.3" width="10.4" height="10.4" fill="#bf00bf" stroke="#000" stroke-width="1.9"/><rect x="235.4" y="82.4" width="10.4" height="10.4" fill="#bf00bf" stroke="#000" stroke-width="1.9"/><rect x="260.55" y="82.2" width="10.4" height="10.4" fill="#bf00bf" stroke="#000" stroke-width="1.9"/><rect x="285.7" y="82.2" width="10.4" height="10.4" fill="#bf00bf" stroke="#000" stroke-width="1.9"/><rect x="310.85" y="82.4" width="10.4" height="10.4" fill="#bf00bf" stroke="#000" stroke-width="1.9"/><rect x="336" y="82.9" width="10.4" height="10.4" fill="#bf00bf" stroke="#000" stroke-width="1.9"/><rect x="361.15" y="83.3" width="10.4" height="10.4" fill="#bf00bf" stroke="#000" stroke-width="1.9"/><rect x="386.3" y="83.3" width="10.4" height="10.4" fill="#bf00bf" stroke="#000" stroke-width="1.9"/><rect x="411.45" y="83.5" width="10.4" height="10.4" fill="#bf00bf" stroke="#000" stroke-width="1.9"/><rect x="436.6" y="83.8" width="10.4" height="10.4" fill="#bf00bf" stroke="#000" stroke-width="1.9"/><rect x="461.75" y="84" width="10.4" height="10.4" fill="#bf00bf" stroke="#000" stroke-width="1.9"/><rect x="486.9" y="84.1" width="10.4" height="10.4" fill="#bf00bf" stroke="#000" stroke-width="1.9"/><rect x="512.05" y="84.3" width="10.4" height="10.4" fill="#bf00bf" stroke="#000" stroke-width="1.9"/><rect x="537.2" y="84.4" width="10.4" height="10.4" fill="#bf00bf" stroke="#000" stroke-width="1.9"/><rect x="562.35" y="84.5" width="10.4" height="10.4" fill="#bf00bf" stroke="#000" stroke-width="1.9"/><rect x="587.5" y="84.7" width="10.4" height="10.4" fill="#bf00bf" stroke="#000" stroke-width="1.9"/><rect x="612.65" y="84.8" width="10.4" height="10.4" fill="#bf00bf" stroke="#000" stroke-width="1.9"/></g>
<polyline points="140,118.7 165.15,117.6 190.3,116.9 215.45,116.2 240.6,115 265.75,115.2 290.9,116 316.05,116.9 341.2,118.2 366.35,119.6 391.5,120.4 416.65,121.5 441.8,122 466.95,122.9 492.1,123.4 517.25,124.2 542.4,124.7 567.55,125.2 592.7,125.8 617.85,126.3" fill="none" stroke="#bf00bf" stroke-width="3.9" stroke-linejoin="round"/>
<g><path d="M140 111.35L144.41 118.7L140 126.05L135.59 118.7Z" stroke-linejoin="miter" fill="#bf00bf" stroke="#000" stroke-width="1.9"/><path d="M165.15 110.25L169.56 117.6L165.15 124.95L160.74 117.6Z" stroke-linejoin="miter" fill="#bf00bf" stroke="#000" stroke-width="1.9"/><path d="M190.3 109.55L194.71 116.9L190.3 124.25L185.89 116.9Z" stroke-linejoin="miter" fill="#bf00bf" stroke="#000" stroke-width="1.9"/><path d="M215.45 108.85L219.86 116.2L215.45 123.55L211.04 116.2Z" stroke-linejoin="miter" fill="#bf00bf" stroke="#000" stroke-width="1.9"/><path d="M240.6 107.65L245.01 115L240.6 122.35L236.19 115Z" stroke-linejoin="miter" fill="#bf00bf" stroke="#000" stroke-width="1.9"/><path d="M265.75 107.85L270.16 115.2L265.75 122.55L261.34 115.2Z" stroke-linejoin="miter" fill="#bf00bf" stroke="#000" stroke-width="1.9"/><path d="M290.9 108.65L295.31 116L290.9 123.35L286.49 116Z" stroke-linejoin="miter" fill="#bf00bf" stroke="#000" stroke-width="1.9"/><path d="M316.05 109.55L320.46 116.9L316.05 124.25L311.64 116.9Z" stroke-linejoin="miter" fill="#bf00bf" stroke="#000" stroke-width="1.9"/><path d="M341.2 110.85L345.61 118.2L341.2 125.55L336.79 118.2Z" stroke-linejoin="miter" fill="#bf00bf" stroke="#000" stroke-width="1.9"/><path d="M366.35 112.25L370.76 119.6L366.35 126.95L361.94 119.6Z" stroke-linejoin="miter" fill="#bf00bf" stroke="#000" stroke-width="1.9"/><path d="M391.5 113.05L395.91 120.4L391.5 127.75L387.09 120.4Z" stroke-linejoin="miter" fill="#bf00bf" stroke="#000" stroke-width="1.9"/><path d="M416.65 114.15L421.06 121.5L416.65 128.85L412.24 121.5Z" stroke-linejoin="miter" fill="#bf00bf" stroke="#000" stroke-width="1.9"/><path d="M441.8 114.65L446.21 122L441.8 129.35L437.39 122Z" stroke-linejoin="miter" fill="#bf00bf" stroke="#000" stroke-width="1.9"/><path d="M466.95 115.55L471.36 122.9L466.95 130.25L462.54 122.9Z" stroke-linejoin="miter" fill="#bf00bf" stroke="#000" stroke-width="1.9"/><path d="M492.1 116.05L496.51 123.4L492.1 130.75L487.69 123.4Z" stroke-linejoin="miter" fill="#bf00bf" stroke="#000" stroke-width="1.9"/><path d="M517.25 116.85L521.66 124.2L517.25 131.55L512.84 124.2Z" stroke-linejoin="miter" fill="#bf00bf" stroke="#000" stroke-width="1.9"/><path d="M542.4 117.35L546.81 124.7L542.4 132.05L537.99 124.7Z" stroke-linejoin="miter" fill="#bf00bf" stroke="#000" stroke-width="1.9"/><path d="M567.55 117.85L571.96 125.2L567.55 132.55L563.14 125.2Z" stroke-linejoin="miter" fill="#bf00bf" stroke="#000" stroke-width="1.9"/><path d="M592.7 118.45L597.11 125.8L592.7 133.15L588.29 125.8Z" stroke-linejoin="miter" fill="#bf00bf" stroke="#000" stroke-width="1.9"/><path d="M617.85 118.95L622.26 126.3L617.85 133.65L613.44 126.3Z" stroke-linejoin="miter" fill="#bf00bf" stroke="#000" stroke-width="1.9"/></g>
</g>
<path d="M140 568.6v-14.5M140 14.2v14.5M202.88 568.6v-14.5M202.88 14.2v14.5M265.75 568.6v-14.5M265.75 14.2v14.5M328.62 568.6v-14.5M328.62 14.2v14.5M391.5 568.6v-14.5M391.5 14.2v14.5M454.38 568.6v-14.5M454.38 14.2v14.5M517.25 568.6v-14.5M517.25 14.2v14.5M580.12 568.6v-14.5M580.12 14.2v14.5M643 568.6v-14.5M643 14.2v14.5M140 14.2h13.8M643 14.2h-13.8M140 93.4h13.8M643 93.4h-13.8M140 172.6h13.8M643 172.6h-13.8M140 251.8h13.8M643 251.8h-13.8M140 331h13.8M643 331h-13.8M140 410.2h13.8M643 410.2h-13.8M140 489.4h13.8M643 489.4h-13.8M140 568.6h13.8M643 568.6h-13.8" stroke="#000" stroke-width="1.6" fill="none"/>
<rect x="140" y="14.2" width="503" height="554.4" fill="none" stroke="#000" stroke-width="3.7"/>
<g font-family="'DejaVu Sans','Liberation Sans',sans-serif" font-size="27.8" fill="#000" stroke="#000" stroke-width="0.3">
<g text-anchor="middle">
<text x="140" y="603.8">0</text>
<text x="202.88" y="603.8">5</text>
<text x="265.75" y="603.8">10</text>
<text x="328.62" y="603.8">15</text>
<text x="391.5" y="603.8">20</text>
<text x="454.38" y="603.8">25</text>
<text x="517.25" y="603.8">30</text>
<text x="580.12" y="603.8">35</text>
<text x="643" y="603.8">40</text>
</g><g text-anchor="end">
<text x="125.9" y="22.3">0.98</text>
<text x="125.9" y="101.5">0.97</text>
<text x="125.9" y="180.7">0.96</text>
<text x="125.9" y="259.9">0.95</text>
<text x="125.9" y="339.1">0.94</text>
<text x="125.9" y="418.3">0.93</text>
<text x="125.9" y="497.5">0.92</text>
<text x="125.9" y="576.7">0.91</text>
</g></g>
<text x="391.5" y="653" text-anchor="middle" font-family="'DejaVu Sans','Liberation Sans',sans-serif" font-size="35" stroke="#000" stroke-width="0.25">snapshot</text>
<g transform="translate(38.4 0) rotate(-90)" fill="#000">
<text transform="translate(-366.4 0) scale(1.17 1)" font-family="'Liberation Serif','DejaVu Serif',serif" font-style="italic" font-size="37">R</text>
<text x="-337" y="-13.6" font-family="'Liberation Serif','DejaVu Serif',serif" font-size="25">2</text>
<text x="-323" y="0" font-family="'DejaVu Sans','Liberation Sans',sans-serif" font-size="35.3" stroke="#000" stroke-width="0.25">-score</text>
</g>
<clipPath id="clip2"><rect x="852.7" y="14.3" width="503.1" height="554.4"/></clipPath>
<g clip-path="url(#clip2)">
<polyline points="852.7,274.5 877.86,272.8 903.01,264.4 928.16,257.9 953.32,260.1 978.48,258.9 1003.63,259.3 1028.79,260.4 1053.94,260.5 1079.1,260.8 1104.25,261.3 1129.4,261.9 1154.56,262.3 1179.71,262.7 1204.87,263 1230.03,263.3 1255.18,263.7 1280.34,263.8 1305.49,264 1330.64,264.1" fill="none" stroke="#0000ff" stroke-width="3.9" stroke-linejoin="round"/>
<g><circle cx="852.7" cy="274.5" r="5.2" fill="#0000ff" stroke="#000" stroke-width="1.9"/><circle cx="877.86" cy="272.8" r="5.2" fill="#0000ff" stroke="#000" stroke-width="1.9"/><circle cx="903.01" cy="264.4" r="5.2" fill="#0000ff" stroke="#000" stroke-width="1.9"/><circle cx="928.16" cy="257.9" r="5.2" fill="#0000ff" stroke="#000" stroke-width="1.9"/><circle cx="953.32" cy="260.1" r="5.2" fill="#0000ff" stroke="#000" stroke-width="1.9"/><circle cx="978.48" cy="258.9" r="5.2" fill="#0000ff" stroke="#000" stroke-width="1.9"/><circle cx="1003.63" cy="259.3" r="5.2" fill="#0000ff" stroke="#000" stroke-width="1.9"/><circle cx="1028.79" cy="260.4" r="5.2" fill="#0000ff" stroke="#000" stroke-width="1.9"/><circle cx="1053.94" cy="260.5" r="5.2" fill="#0000ff" stroke="#000" stroke-width="1.9"/><circle cx="1079.1" cy="260.8" r="5.2" fill="#0000ff" stroke="#000" stroke-width="1.9"/><circle cx="1104.25" cy="261.3" r="5.2" fill="#0000ff" stroke="#000" stroke-width="1.9"/><circle cx="1129.4" cy="261.9" r="5.2" fill="#0000ff" stroke="#000" stroke-width="1.9"/><circle cx="1154.56" cy="262.3" r="5.2" fill="#0000ff" stroke="#000" stroke-width="1.9"/><circle cx="1179.71" cy="262.7" r="5.2" fill="#0000ff" stroke="#000" stroke-width="1.9"/><circle cx="1204.87" cy="263" r="5.2" fill="#0000ff" stroke="#000" stroke-width="1.9"/><circle cx="1230.03" cy="263.3" r="5.2" fill="#0000ff" stroke="#000" stroke-width="1.9"/><circle cx="1255.18" cy="263.7" r="5.2" fill="#0000ff" stroke="#000" stroke-width="1.9"/><circle cx="1280.34" cy="263.8" r="5.2" fill="#0000ff" stroke="#000" stroke-width="1.9"/><circle cx="1305.49" cy="264" r="5.2" fill="#0000ff" stroke="#000" stroke-width="1.9"/><circle cx="1330.64" cy="264.1" r="5.2" fill="#0000ff" stroke="#000" stroke-width="1.9"/></g>
<polyline points="852.7,227.3 877.86,227.2 903.01,223.3 928.16,219.8 953.32,219.8 978.48,218.6 1003.63,219 1028.79,219.8 1053.94,220 1079.1,220.3 1104.25,220.8 1129.4,221.3 1154.56,222.1 1179.71,222.8 1204.87,223.5 1230.03,223.9 1255.18,224.4 1280.34,224.7 1305.49,224.8 1330.64,225" fill="none" stroke="#0000ff" stroke-width="3.9" stroke-linejoin="round"/>
<g><rect x="847.5" y="222.1" width="10.4" height="10.4" fill="#0000ff" stroke="#000" stroke-width="1.9"/><rect x="872.65" y="222" width="10.4" height="10.4" fill="#0000ff" stroke="#000" stroke-width="1.9"/><rect x="897.81" y="218.1" width="10.4" height="10.4" fill="#0000ff" stroke="#000" stroke-width="1.9"/><rect x="922.96" y="214.6" width="10.4" height="10.4" fill="#0000ff" stroke="#000" stroke-width="1.9"/><rect x="948.12" y="214.6" width="10.4" height="10.4" fill="#0000ff" stroke="#000" stroke-width="1.9"/><rect x="973.27" y="213.4" width="10.4" height="10.4" fill="#0000ff" stroke="#000" stroke-width="1.9"/><rect x="998.43" y="213.8" width="10.4" height="10.4" fill="#0000ff" stroke="#000" stroke-width="1.9"/><rect x="1023.59" y="214.6" width="10.4" height="10.4" fill="#0000ff" stroke="#000" stroke-width="1.9"/><rect x="1048.74" y="214.8" width="10.4" height="10.4" fill="#0000ff" stroke="#000" stroke-width="1.9"/><rect x="1073.89" y="215.1" width="10.4" height="10.4" fill="#0000ff" stroke="#000" stroke-width="1.9"/><rect x="1099.05" y="215.6" width="10.4" height="10.4" fill="#0000ff" stroke="#000" stroke-width="1.9"/><rect x="1124.2" y="216.1" width="10.4" height="10.4" fill="#0000ff" stroke="#000" stroke-width="1.9"/><rect x="1149.36" y="216.9" width="10.4" height="10.4" fill="#0000ff" stroke="#000" stroke-width="1.9"/><rect x="1174.51" y="217.6" width="10.4" height="10.4" fill="#0000ff" stroke="#000" stroke-width="1.9"/><rect x="1199.67" y="218.3" width="10.4" height="10.4" fill="#0000ff" stroke="#000" stroke-width="1.9"/><rect x="1224.83" y="218.7" width="10.4" height="10.4" fill="#0000ff" stroke="#000" stroke-width="1.9"/><rect x="1249.98" y="219.2" width="10.4" height="10.4" fill="#0000ff" stroke="#000" stroke-width="1.9"/><rect x="1275.13" y="219.5" width="10.4" height="10.4" fill="#0000ff" stroke="#000" stroke-width="1.9"/><rect x="1300.29" y="219.6" width="10.4" height="10.4" fill="#0000ff" stroke="#000" stroke-width="1.9"/><rect x="1325.44" y="219.8" width="10.4" height="10.4" fill="#0000ff" stroke="#000" stroke-width="1.9"/></g>
<polyline points="852.7,552.6 877.86,542.5 903.01,531.3 928.16,521.2 953.32,519.3 978.48,515 1003.63,516.4 1028.79,517.2 1053.94,516.4 1079.1,517.7 1104.25,518.7 1129.4,519.7 1154.56,520.8 1179.71,522.1 1204.87,522.9 1230.03,523.4 1255.18,524.2 1280.34,524.7 1305.49,525.2 1330.64,525.7" fill="none" stroke="#0000ff" stroke-width="3.9" stroke-linejoin="round"/>
<g><path d="M852.7 545.25L857.11 552.6L852.7 559.95L848.29 552.6Z" stroke-linejoin="miter" fill="#0000ff" stroke="#000" stroke-width="1.9"/><path d="M877.86 535.15L882.27 542.5L877.86 549.85L873.44 542.5Z" stroke-linejoin="miter" fill="#0000ff" stroke="#000" stroke-width="1.9"/><path d="M903.01 523.95L907.42 531.3L903.01 538.65L898.6 531.3Z" stroke-linejoin="miter" fill="#0000ff" stroke="#000" stroke-width="1.9"/><path d="M928.16 513.85L932.58 521.2L928.16 528.55L923.75 521.2Z" stroke-linejoin="miter" fill="#0000ff" stroke="#000" stroke-width="1.9"/><path d="M953.32 511.95L957.73 519.3L953.32 526.65L948.91 519.3Z" stroke-linejoin="miter" fill="#0000ff" stroke="#000" stroke-width="1.9"/><path d="M978.48 507.65L982.89 515L978.48 522.35L974.06 515Z" stroke-linejoin="miter" fill="#0000ff" stroke="#000" stroke-width="1.9"/><path d="M1003.63 509.05L1008.04 516.4L1003.63 523.75L999.22 516.4Z" stroke-linejoin="miter" fill="#0000ff" stroke="#000" stroke-width="1.9"/><path d="M1028.79 509.85L1033.2 517.2L1028.79 524.55L1024.37 517.2Z" stroke-linejoin="miter" fill="#0000ff" stroke="#000" stroke-width="1.9"/><path d="M1053.94 509.05L1058.35 516.4L1053.94 523.75L1049.53 516.4Z" stroke-linejoin="miter" fill="#0000ff" stroke="#000" stroke-width="1.9"/><path d="M1079.1 510.35L1083.51 517.7L1079.1 525.05L1074.68 517.7Z" stroke-linejoin="miter" fill="#0000ff" stroke="#000" stroke-width="1.9"/><path d="M1104.25 511.35L1108.66 518.7L1104.25 526.05L1099.84 518.7Z" stroke-linejoin="miter" fill="#0000ff" stroke="#000" stroke-width="1.9"/><path d="M1129.4 512.35L1133.82 519.7L1129.4 527.05L1124.99 519.7Z" stroke-linejoin="miter" fill="#0000ff" stroke="#000" stroke-width="1.9"/><path d="M1154.56 513.45L1158.97 520.8L1154.56 528.15L1150.15 520.8Z" stroke-linejoin="miter" fill="#0000ff" stroke="#000" stroke-width="1.9"/><path d="M1179.71 514.75L1184.13 522.1L1179.71 529.45L1175.3 522.1Z" stroke-linejoin="miter" fill="#0000ff" stroke="#000" stroke-width="1.9"/><path d="M1204.87 515.55L1209.28 522.9L1204.87 530.25L1200.46 522.9Z" stroke-linejoin="miter" fill="#0000ff" stroke="#000" stroke-width="1.9"/><path d="M1230.03 516.05L1234.44 523.4L1230.03 530.75L1225.61 523.4Z" stroke-linejoin="miter" fill="#0000ff" stroke="#000" stroke-width="1.9"/><path d="M1255.18 516.85L1259.59 524.2L1255.18 531.55L1250.77 524.2Z" stroke-linejoin="miter" fill="#0000ff" stroke="#000" stroke-width="1.9"/><path d="M1280.34 517.35L1284.75 524.7L1280.34 532.05L1275.92 524.7Z" stroke-linejoin="miter" fill="#0000ff" stroke="#000" stroke-width="1.9"/><path d="M1305.49 517.85L1309.9 525.2L1305.49 532.55L1301.08 525.2Z" stroke-linejoin="miter" fill="#0000ff" stroke="#000" stroke-width="1.9"/><path d="M1330.64 518.35L1335.06 525.7L1330.64 533.05L1326.23 525.7Z" stroke-linejoin="miter" fill="#0000ff" stroke="#000" stroke-width="1.9"/></g>
<polyline points="852.7,291.5 877.86,286.5 903.01,271.9 928.16,268 953.32,268.3 978.48,268 1003.63,268.6 1028.79,270.9 1053.94,271.7 1079.1,272.9 1104.25,273.6 1129.4,274.2 1154.56,274.8 1179.71,275.3 1204.87,276 1230.03,276.3 1255.18,276.8 1280.34,277.2 1305.49,277.5 1330.64,277.9" fill="none" stroke="#008000" stroke-width="3.9" stroke-linejoin="round"/>
<g><circle cx="852.7" cy="291.5" r="5.2" fill="#008000" stroke="#000" stroke-width="1.9"/><circle cx="877.86" cy="286.5" r="5.2" fill="#008000" stroke="#000" stroke-width="1.9"/><circle cx="903.01" cy="271.9" r="5.2" fill="#008000" stroke="#000" stroke-width="1.9"/><circle cx="928.16" cy="268" r="5.2" fill="#008000" stroke="#000" stroke-width="1.9"/><circle cx="953.32" cy="268.3" r="5.2" fill="#008000" stroke="#000" stroke-width="1.9"/><circle cx="978.48" cy="268" r="5.2" fill="#008000" stroke="#000" stroke-width="1.9"/><circle cx="1003.63" cy="268.6" r="5.2" fill="#008000" stroke="#000" stroke-width="1.9"/><circle cx="1028.79" cy="270.9" r="5.2" fill="#008000" stroke="#000" stroke-width="1.9"/><circle cx="1053.94" cy="271.7" r="5.2" fill="#008000" stroke="#000" stroke-width="1.9"/><circle cx="1079.1" cy="272.9" r="5.2" fill="#008000" stroke="#000" stroke-width="1.9"/><circle cx="1104.25" cy="273.6" r="5.2" fill="#008000" stroke="#000" stroke-width="1.9"/><circle cx="1129.4" cy="274.2" r="5.2" fill="#008000" stroke="#000" stroke-width="1.9"/><circle cx="1154.56" cy="274.8" r="5.2" fill="#008000" stroke="#000" stroke-width="1.9"/><circle cx="1179.71" cy="275.3" r="5.2" fill="#008000" stroke="#000" stroke-width="1.9"/><circle cx="1204.87" cy="276" r="5.2" fill="#008000" stroke="#000" stroke-width="1.9"/><circle cx="1230.03" cy="276.3" r="5.2" fill="#008000" stroke="#000" stroke-width="1.9"/><circle cx="1255.18" cy="276.8" r="5.2" fill="#008000" stroke="#000" stroke-width="1.9"/><circle cx="1280.34" cy="277.2" r="5.2" fill="#008000" stroke="#000" stroke-width="1.9"/><circle cx="1305.49" cy="277.5" r="5.2" fill="#008000" stroke="#000" stroke-width="1.9"/><circle cx="1330.64" cy="277.9" r="5.2" fill="#008000" stroke="#000" stroke-width="1.9"/></g>
<polyline points="852.7,162.2 877.86,161.7 903.01,156.8 928.16,154.6 953.32,156.3 978.48,154 1003.63,154.7 1028.79,155 1053.94,155.4 1079.1,156 1104.25,156.5 1129.4,157.3 1154.56,158.1 1179.71,158.5 1204.87,158.8 1230.03,159 1255.18,159.1 1280.34,159.1 1305.49,159.2 1330.64,159.4" fill="none" stroke="#008000" stroke-width="3.9" stroke-linejoin="round"/>
<g><rect x="847.5" y="157" width="10.4" height="10.4" fill="#008000" stroke="#000" stroke-width="1.9"/><rect x="872.65" y="156.5" width="10.4" height="10.4" fill="#008000" stroke="#000" stroke-width="1.9"/><rect x="897.81" y="151.6" width="10.4" height="10.4" fill="#008000" stroke="#000" stroke-width="1.9"/><rect x="922.96" y="149.4" width="10.4" height="10.4" fill="#008000" stroke="#000" stroke-width="1.9"/><rect x="948.12" y="151.1" width="10.4" height="10.4" fill="#008000" stroke="#000" stroke-width="1.9"/><rect x="973.27" y="148.8" width="10.4" height="10.4" fill="#008000" stroke="#000" stroke-width="1.9"/><rect x="998.43" y="149.5" width="10.4" height="10.4" fill="#008000" stroke="#000" stroke-width="1.9"/><rect x="1023.59" y="149.8" width="10.4" height="10.4" fill="#008000" stroke="#000" stroke-width="1.9"/><rect x="1048.74" y="150.2" width="10.4" height="10.4" fill="#008000" stroke="#000" stroke-width="1.9"/><rect x="1073.89" y="150.8" width="10.4" height="10.4" fill="#008000" stroke="#000" stroke-width="1.9"/><rect x="1099.05" y="151.3" width="10.4" height="10.4" fill="#008000" stroke="#000" stroke-width="1.9"/><rect x="1124.2" y="152.1" width="10.4" height="10.4" fill="#008000" stroke="#000" stroke-width="1.9"/><rect x="1149.36" y="152.9" width="10.4" height="10.4" fill="#008000" stroke="#000" stroke-width="1.9"/><rect x="1174.51" y="153.3" width="10.4" height="10.4" fill="#008000" stroke="#000" stroke-width="1.9"/><rect x="1199.67" y="153.6" width="10.4" height="10.4" fill="#008000" stroke="#000" stroke-width="1.9"/><rect x="1224.83" y="153.8" width="10.4" height="10.4" fill="#008000" stroke="#000" stroke-width="1.9"/><rect x="1249.98" y="153.9" width="10.4" height="10.4" fill="#008000" stroke="#000" stroke-width="1.9"/><rect x="1275.13" y="153.9" width="10.4" height="10.4" fill="#008000" stroke="#000" stroke-width="1.9"/><rect x="1300.29" y="154" width="10.4" height="10.4" fill="#008000" stroke="#000" stroke-width="1.9"/><rect x="1325.44" y="154.2" width="10.4" height="10.4" fill="#008000" stroke="#000" stroke-width="1.9"/></g>
<polyline points="852.7,345.4 877.86,340.4 903.01,333.9 928.16,327.6 953.32,327.1 978.48,325.6 1003.63,326.8 1028.79,327.8 1053.94,328.4 1079.1,329.7 1104.25,330.8 1129.4,331.6 1154.56,332.9 1179.71,334.4 1204.87,335.5 1230.03,336.5 1255.18,337.3 1280.34,337.8 1305.49,338.1 1330.64,338.6" fill="none" stroke="#008000" stroke-width="3.9" stroke-linejoin="round"/>
<g><path d="M852.7 338.05L857.11 345.4L852.7 352.75L848.29 345.4Z" stroke-linejoin="miter" fill="#008000" stroke="#000" stroke-width="1.9"/><path d="M877.86 333.05L882.27 340.4L877.86 347.75L873.44 340.4Z" stroke-linejoin="miter" fill="#008000" stroke="#000" stroke-width="1.9"/><path d="M903.01 326.55L907.42 333.9L903.01 341.25L898.6 333.9Z" stroke-linejoin="miter" fill="#008000" stroke="#000" stroke-width="1.9"/><path d="M928.16 320.25L932.58 327.6L928.16 334.95L923.75 327.6Z" stroke-linejoin="miter" fill="#008000" stroke="#000" stroke-width="1.9"/><path d="M953.32 319.75L957.73 327.1L953.32 334.45L948.91 327.1Z" stroke-linejoin="miter" fill="#008000" stroke="#000" stroke-width="1.9"/><path d="M978.48 318.25L982.89 325.6L978.48 332.95L974.06 325.6Z" stroke-linejoin="miter" fill="#008000" stroke="#000" stroke-width="1.9"/><path d="M1003.63 319.45L1008.04 326.8L1003.63 334.15L999.22 326.8Z" stroke-linejoin="miter" fill="#008000" stroke="#000" stroke-width="1.9"/><path d="M1028.79 320.45L1033.2 327.8L1028.79 335.15L1024.37 327.8Z" stroke-linejoin="miter" fill="#008000" stroke="#000" stroke-width="1.9"/><path d="M1053.94 321.05L1058.35 328.4L1053.94 335.75L1049.53 328.4Z" stroke-linejoin="miter" fill="#008000" stroke="#000" stroke-width="1.9"/><path d="M1079.1 322.35L1083.51 329.7L1079.1 337.05L1074.68 329.7Z" stroke-linejoin="miter" fill="#008000" stroke="#000" stroke-width="1.9"/><path d="M1104.25 323.45L1108.66 330.8L1104.25 338.15L1099.84 330.8Z" stroke-linejoin="miter" fill="#008000" stroke="#000" stroke-width="1.9"/><path d="M1129.4 324.25L1133.82 331.6L1129.4 338.95L1124.99 331.6Z" stroke-linejoin="miter" fill="#008000" stroke="#000" stroke-width="1.9"/><path d="M1154.56 325.55L1158.97 332.9L1154.56 340.25L1150.15 332.9Z" stroke-linejoin="miter" fill="#008000" stroke="#000" stroke-width="1.9"/><path d="M1179.71 327.05L1184.13 334.4L1179.71 341.75L1175.3 334.4Z" stroke-linejoin="miter" fill="#008000" stroke="#000" stroke-width="1.9"/><path d="M1204.87 328.15L1209.28 335.5L1204.87 342.85L1200.46 335.5Z" stroke-linejoin="miter" fill="#008000" stroke="#000" stroke-width="1.9"/><path d="M1230.03 329.15L1234.44 336.5L1230.03 343.85L1225.61 336.5Z" stroke-linejoin="miter" fill="#008000" stroke="#000" stroke-width="1.9"/><path d="M1255.18 329.95L1259.59 337.3L1255.18 344.65L1250.77 337.3Z" stroke-linejoin="miter" fill="#008000" stroke="#000" stroke-width="1.9"/><path d="M1280.34 330.45L1284.75 337.8L1280.34 345.15L1275.92 337.8Z" stroke-linejoin="miter" fill="#008000" stroke="#000" stroke-width="1.9"/><path d="M1305.49 330.75L1309.9 338.1L1305.49 345.45L1301.08 338.1Z" stroke-linejoin="miter" fill="#008000" stroke="#000" stroke-width="1.9"/><path d="M1330.64 331.25L1335.06 338.6L1330.64 345.95L1326.23 338.6Z" stroke-linejoin="miter" fill="#008000" stroke="#000" stroke-width="1.9"/></g>
<polyline points="852.7,218.8 877.86,216.3 903.01,207.9 928.16,199.5 953.32,199.5 978.48,198.8 1003.63,200.5 1028.79,201.2 1053.94,201.9 1079.1,202.5 1104.25,203 1129.4,203.9 1154.56,205 1179.71,205.5 1204.87,206.2 1230.03,206.9 1255.18,207.3 1280.34,207.6 1305.49,207.8 1330.64,208" fill="none" stroke="#ff0000" stroke-width="3.9" stroke-linejoin="round"/>
<g><circle cx="852.7" cy="218.8" r="5.2" fill="#ff0000" stroke="#000" stroke-width="1.9"/><circle cx="877.86" cy="216.3" r="5.2" fill="#ff0000" stroke="#000" stroke-width="1.9"/><circle cx="903.01" cy="207.9" r="5.2" fill="#ff0000" stroke="#000" stroke-width="1.9"/><circle cx="928.16" cy="199.5" r="5.2" fill="#ff0000" stroke="#000" stroke-width="1.9"/><circle cx="953.32" cy="199.5" r="5.2" fill="#ff0000" stroke="#000" stroke-width="1.9"/><circle cx="978.48" cy="198.8" r="5.2" fill="#ff0000" stroke="#000" stroke-width="1.9"/><circle cx="1003.63" cy="200.5" r="5.2" fill="#ff0000" stroke="#000" stroke-width="1.9"/><circle cx="1028.79" cy="201.2" r="5.2" fill="#ff0000" stroke="#000" stroke-width="1.9"/><circle cx="1053.94" cy="201.9" r="5.2" fill="#ff0000" stroke="#000" stroke-width="1.9"/><circle cx="1079.1" cy="202.5" r="5.2" fill="#ff0000" stroke="#000" stroke-width="1.9"/><circle cx="1104.25" cy="203" r="5.2" fill="#ff0000" stroke="#000" stroke-width="1.9"/><circle cx="1129.4" cy="203.9" r="5.2" fill="#ff0000" stroke="#000" stroke-width="1.9"/><circle cx="1154.56" cy="205" r="5.2" fill="#ff0000" stroke="#000" stroke-width="1.9"/><circle cx="1179.71" cy="205.5" r="5.2" fill="#ff0000" stroke="#000" stroke-width="1.9"/><circle cx="1204.87" cy="206.2" r="5.2" fill="#ff0000" stroke="#000" stroke-width="1.9"/><circle cx="1230.03" cy="206.9" r="5.2" fill="#ff0000" stroke="#000" stroke-width="1.9"/><circle cx="1255.18" cy="207.3" r="5.2" fill="#ff0000" stroke="#000" stroke-width="1.9"/><circle cx="1280.34" cy="207.6" r="5.2" fill="#ff0000" stroke="#000" stroke-width="1.9"/><circle cx="1305.49" cy="207.8" r="5.2" fill="#ff0000" stroke="#000" stroke-width="1.9"/><circle cx="1330.64" cy="208" r="5.2" fill="#ff0000" stroke="#000" stroke-width="1.9"/></g>
<polyline points="852.7,126.7 877.86,126.7 903.01,126.6 928.16,125.5 953.32,126.5 978.48,125.5 1003.63,126.7 1028.79,126.7 1053.94,126.2 1079.1,126.7 1104.25,127 1129.4,127.7 1154.56,128.4 1179.71,129.1 1204.87,129.6 1230.03,129.9 1255.18,130.3 1280.34,130.6 1305.49,130.6 1330.64,130.6" fill="none" stroke="#ff0000" stroke-width="3.9" stroke-linejoin="round"/>
<g><rect x="847.5" y="121.5" width="10.4" height="10.4" fill="#ff0000" stroke="#000" stroke-width="1.9"/><rect x="872.65" y="121.5" width="10.4" height="10.4" fill="#ff0000" stroke="#000" stroke-width="1.9"/><rect x="897.81" y="121.4" width="10.4" height="10.4" fill="#ff0000" stroke="#000" stroke-width="1.9"/><rect x="922.96" y="120.3" width="10.4" height="10.4" fill="#ff0000" stroke="#000" stroke-width="1.9"/><rect x="948.12" y="121.3" width="10.4" height="10.4" fill="#ff0000" stroke="#000" stroke-width="1.9"/><rect x="973.27" y="120.3" width="10.4" height="10.4" fill="#ff0000" stroke="#000" stroke-width="1.9"/><rect x="998.43" y="121.5" width="10.4" height="10.4" fill="#ff0000" stroke="#000" stroke-width="1.9"/><rect x="1023.59" y="121.5" width="10.4" height="10.4" fill="#ff0000" stroke="#000" stroke-width="1.9"/><rect x="1048.74" y="121" width="10.4" height="10.4" fill="#ff0000" stroke="#000" stroke-width="1.9"/><rect x="1073.89" y="121.5" width="10.4" height="10.4" fill="#ff0000" stroke="#000" stroke-width="1.9"/><rect x="1099.05" y="121.8" width="10.4" height="10.4" fill="#ff0000" stroke="#000" stroke-width="1.9"/><rect x="1124.2" y="122.5" width="10.4" height="10.4" fill="#ff0000" stroke="#000" stroke-width="1.9"/><rect x="1149.36" y="123.2" width="10.4" height="10.4" fill="#ff0000" stroke="#000" stroke-width="1.9"/><rect x="1174.51" y="123.9" width="10.4" height="10.4" fill="#ff0000" stroke="#000" stroke-width="1.9"/><rect x="1199.67" y="124.4" width="10.4" height="10.4" fill="#ff0000" stroke="#000" stroke-width="1.9"/><rect x="1224.83" y="124.7" width="10.4" height="10.4" fill="#ff0000" stroke="#000" stroke-width="1.9"/><rect x="1249.98" y="125.1" width="10.4" height="10.4" fill="#ff0000" stroke="#000" stroke-width="1.9"/><rect x="1275.13" y="125.4" width="10.4" height="10.4" fill="#ff0000" stroke="#000" stroke-width="1.9"/><rect x="1300.29" y="125.4" width="10.4" height="10.4" fill="#ff0000" stroke="#000" stroke-width="1.9"/><rect x="1325.44" y="125.4" width="10.4" height="10.4" fill="#ff0000" stroke="#000" stroke-width="1.9"/></g>
<polyline points="852.7,218.6 877.86,215 903.01,206 928.16,201.7 953.32,201.2 978.48,199.6 1003.63,200.8 1028.79,201.1 1053.94,201.5 1079.1,201.9 1104.25,202.2 1129.4,203 1154.56,203.7 1179.71,204.1 1204.87,204.7 1230.03,205.4 1255.18,205.8 1280.34,206.1 1305.49,206.3 1330.64,206.6" fill="none" stroke="#ff0000" stroke-width="3.9" stroke-linejoin="round"/>
<g><path d="M852.7 211.25L857.11 218.6L852.7 225.95L848.29 218.6Z" stroke-linejoin="miter" fill="#ff0000" stroke="#000" stroke-width="1.9"/><path d="M877.86 207.65L882.27 215L877.86 222.35L873.44 215Z" stroke-linejoin="miter" fill="#ff0000" stroke="#000" stroke-width="1.9"/><path d="M903.01 198.65L907.42 206L903.01 213.35L898.6 206Z" stroke-linejoin="miter" fill="#ff0000" stroke="#000" stroke-width="1.9"/><path d="M928.16 194.35L932.58 201.7L928.16 209.05L923.75 201.7Z" stroke-linejoin="miter" fill="#ff0000" stroke="#000" stroke-width="1.9"/><path d="M953.32 193.85L957.73 201.2L953.32 208.55L948.91 201.2Z" stroke-linejoin="miter" fill="#ff0000" stroke="#000" stroke-width="1.9"/><path d="M978.48 192.25L982.89 199.6L978.48 206.95L974.06 199.6Z" stroke-linejoin="miter" fill="#ff0000" stroke="#000" stroke-width="1.9"/><path d="M1003.63 193.45L1008.04 200.8L1003.63 208.15L999.22 200.8Z" stroke-linejoin="miter" fill="#ff0000" stroke="#000" stroke-width="1.9"/><path d="M1028.79 193.75L1033.2 201.1L1028.79 208.45L1024.37 201.1Z" stroke-linejoin="miter" fill="#ff0000" stroke="#000" stroke-width="1.9"/><path d="M1053.94 194.15L1058.35 201.5L1053.94 208.85L1049.53 201.5Z" stroke-linejoin="miter" fill="#ff0000" stroke="#000" stroke-width="1.9"/><path d="M1079.1 194.55L1083.51 201.9L1079.1 209.25L1074.68 201.9Z" stroke-linejoin="miter" fill="#ff0000" stroke="#000" stroke-width="1.9"/><path d="M1104.25 194.85L1108.66 202.2L1104.25 209.55L1099.84 202.2Z" stroke-linejoin="miter" fill="#ff0000" stroke="#000" stroke-width="1.9"/><path d="M1129.4 195.65L1133.82 203L1129.4 210.35L1124.99 203Z" stroke-linejoin="miter" fill="#ff0000" stroke="#000" stroke-width="1.9"/><path d="M1154.56 196.35L1158.97 203.7L1154.56 211.05L1150.15 203.7Z" stroke-linejoin="miter" fill="#ff0000" stroke="#000" stroke-width="1.9"/><path d="M1179.71 196.75L1184.13 204.1L1179.71 211.45L1175.3 204.1Z" stroke-linejoin="miter" fill="#ff0000" stroke="#000" stroke-width="1.9"/><path d="M1204.87 197.35L1209.28 204.7L1204.87 212.05L1200.46 204.7Z" stroke-linejoin="miter" fill="#ff0000" stroke="#000" stroke-width="1.9"/><path d="M1230.03 198.05L1234.44 205.4L1230.03 212.75L1225.61 205.4Z" stroke-linejoin="miter" fill="#ff0000" stroke="#000" stroke-width="1.9"/><path d="M1255.18 198.45L1259.59 205.8L1255.18 213.15L1250.77 205.8Z" stroke-linejoin="miter" fill="#ff0000" stroke="#000" stroke-width="1.9"/><path d="M1280.34 198.75L1284.75 206.1L1280.34 213.45L1275.92 206.1Z" stroke-linejoin="miter" fill="#ff0000" stroke="#000" stroke-width="1.9"/><path d="M1305.49 198.95L1309.9 206.3L1305.49 213.65L1301.08 206.3Z" stroke-linejoin="miter" fill="#ff0000" stroke="#000" stroke-width="1.9"/><path d="M1330.64 199.25L1335.06 206.6L1330.64 213.95L1326.23 206.6Z" stroke-linejoin="miter" fill="#ff0000" stroke="#000" stroke-width="1.9"/></g>
<polyline points="852.7,122.5 877.86,119.6 903.01,113.4 928.16,109.6 953.32,109.6 978.48,108.9 1003.63,109.8 1028.79,110.5 1053.94,110.5 1079.1,110.6 1104.25,111 1129.4,111.4 1154.56,111.7 1179.71,112.4 1204.87,112.8 1230.03,113.1 1255.18,113.5 1280.34,113.8 1305.49,113.8 1330.64,113.8" fill="none" stroke="#00bfbf" stroke-width="3.9" stroke-linejoin="round"/>
<g><circle cx="852.7" cy="122.5" r="5.2" fill="#00bfbf" stroke="#000" stroke-width="1.9"/><circle cx="877.86" cy="119.6" r="5.2" fill="#00bfbf" stroke="#000" stroke-width="1.9"/><circle cx="903.01" cy="113.4" r="5.2" fill="#00bfbf" stroke="#000" stroke-width="1.9"/><circle cx="928.16" cy="109.6" r="5.2" fill="#00bfbf" stroke="#000" stroke-width="1.9"/><circle cx="953.32" cy="109.6" r="5.2" fill="#00bfbf" stroke="#000" stroke-width="1.9"/><circle cx="978.48" cy="108.9" r="5.2" fill="#00bfbf" stroke="#000" stroke-width="1.9"/><circle cx="1003.63" cy="109.8" r="5.2" fill="#00bfbf" stroke="#000" stroke-width="1.9"/><circle cx="1028.79" cy="110.5" r="5.2" fill="#00bfbf" stroke="#000" stroke-width="1.9"/><circle cx="1053.94" cy="110.5" r="5.2" fill="#00bfbf" stroke="#000" stroke-width="1.9"/><circle cx="1079.1" cy="110.6" r="5.2" fill="#00bfbf" stroke="#000" stroke-width="1.9"/><circle cx="1104.25" cy="111" r="5.2" fill="#00bfbf" stroke="#000" stroke-width="1.9"/><circle cx="1129.4" cy="111.4" r="5.2" fill="#00bfbf" stroke="#000" stroke-width="1.9"/><circle cx="1154.56" cy="111.7" r="5.2" fill="#00bfbf" stroke="#000" stroke-width="1.9"/><circle cx="1179.71" cy="112.4" r="5.2" fill="#00bfbf" stroke="#000" stroke-width="1.9"/><circle cx="1204.87" cy="112.8" r="5.2" fill="#00bfbf" stroke="#000" stroke-width="1.9"/><circle cx="1230.03" cy="113.1" r="5.2" fill="#00bfbf" stroke="#000" stroke-width="1.9"/><circle cx="1255.18" cy="113.5" r="5.2" fill="#00bfbf" stroke="#000" stroke-width="1.9"/><circle cx="1280.34" cy="113.8" r="5.2" fill="#00bfbf" stroke="#000" stroke-width="1.9"/><circle cx="1305.49" cy="113.8" r="5.2" fill="#00bfbf" stroke="#000" stroke-width="1.9"/><circle cx="1330.64" cy="113.8" r="5.2" fill="#00bfbf" stroke="#000" stroke-width="1.9"/></g>
<polyline points="852.7,101.4 877.86,104.1 903.01,100.9 928.16,98.5 953.32,100.1 978.48,99.7 1003.63,101.3 1028.79,101 1053.94,100.6 1079.1,101 1104.25,101.3 1129.4,101.7 1154.56,102.3 1179.71,103.2 1204.87,103.5 1230.03,103.6 1255.18,103.6 1280.34,103.5 1305.49,103.5 1330.64,103.3" fill="none" stroke="#00bfbf" stroke-width="3.9" stroke-linejoin="round"/>
<g><rect x="847.5" y="96.2" width="10.4" height="10.4" fill="#00bfbf" stroke="#000" stroke-width="1.9"/><rect x="872.65" y="98.9" width="10.4" height="10.4" fill="#00bfbf" stroke="#000" stroke-width="1.9"/><rect x="897.81" y="95.7" width="10.4" height="10.4" fill="#00bfbf" stroke="#000" stroke-width="1.9"/><rect x="922.96" y="93.3" width="10.4" height="10.4" fill="#00bfbf" stroke="#000" stroke-width="1.9"/><rect x="948.12" y="94.9" width="10.4" height="10.4" fill="#00bfbf" stroke="#000" stroke-width="1.9"/><rect x="973.27" y="94.5" width="10.4" height="10.4" fill="#00bfbf" stroke="#000" stroke-width="1.9"/><rect x="998.43" y="96.1" width="10.4" height="10.4" fill="#00bfbf" stroke="#000" stroke-width="1.9"/><rect x="1023.59" y="95.8" width="10.4" height="10.4" fill="#00bfbf" stroke="#000" stroke-width="1.9"/><rect x="1048.74" y="95.4" width="10.4" height="10.4" fill="#00bfbf" stroke="#000" stroke-width="1.9"/><rect x="1073.89" y="95.8" width="10.4" height="10.4" fill="#00bfbf" stroke="#000" stroke-width="1.9"/><rect x="1099.05" y="96.1" width="10.4" height="10.4" fill="#00bfbf" stroke="#000" stroke-width="1.9"/><rect x="1124.2" y="96.5" width="10.4" height="10.4" fill="#00bfbf" stroke="#000" stroke-width="1.9"/><rect x="1149.36" y="97.1" width="10.4" height="10.4" fill="#00bfbf" stroke="#000" stroke-width="1.9"/><rect x="1174.51" y="98" width="10.4" height="10.4" fill="#00bfbf" stroke="#000" stroke-width="1.9"/><rect x="1199.67" y="98.3" width="10.4" height="10.4" fill="#00bfbf" stroke="#000" stroke-width="1.9"/><rect x="1224.83" y="98.4" width="10.4" height="10.4" fill="#00bfbf" stroke="#000" stroke-width="1.9"/><rect x="1249.98" y="98.4" width="10.4" height="10.4" fill="#00bfbf" stroke="#000" stroke-width="1.9"/><rect x="1275.13" y="98.3" width="10.4" height="10.4" fill="#00bfbf" stroke="#000" stroke-width="1.9"/><rect x="1300.29" y="98.3" width="10.4" height="10.4" fill="#00bfbf" stroke="#000" stroke-width="1.9"/><rect x="1325.44" y="98.1" width="10.4" height="10.4" fill="#00bfbf" stroke="#000" stroke-width="1.9"/></g>
<polyline points="852.7,162.4 877.86,164.4 903.01,161.3 928.16,160.9 953.32,163.6 978.48,162.9 1003.63,164 1028.79,165.1 1053.94,165.8 1079.1,167 1104.25,168.4 1129.4,169.6 1154.56,170.9 1179.71,172.3 1204.87,173.4 1230.03,174.7 1255.18,175.5 1280.34,175.9 1305.49,176.2 1330.64,176.6" fill="none" stroke="#00bfbf" stroke-width="3.9" stroke-linejoin="round"/>
<g><path d="M852.7 155.05L857.11 162.4L852.7 169.75L848.29 162.4Z" stroke-linejoin="miter" fill="#00bfbf" stroke="#000" stroke-width="1.9"/><path d="M877.86 157.05L882.27 164.4L877.86 171.75L873.44 164.4Z" stroke-linejoin="miter" fill="#00bfbf" stroke="#000" stroke-width="1.9"/><path d="M903.01 153.95L907.42 161.3L903.01 168.65L898.6 161.3Z" stroke-linejoin="miter" fill="#00bfbf" stroke="#000" stroke-width="1.9"/><path d="M928.16 153.55L932.58 160.9L928.16 168.25L923.75 160.9Z" stroke-linejoin="miter" fill="#00bfbf" stroke="#000" stroke-width="1.9"/><path d="M953.32 156.25L957.73 163.6L953.32 170.95L948.91 163.6Z" stroke-linejoin="miter" fill="#00bfbf" stroke="#000" stroke-width="1.9"/><path d="M978.48 155.55L982.89 162.9L978.48 170.25L974.06 162.9Z" stroke-linejoin="miter" fill="#00bfbf" stroke="#000" stroke-width="1.9"/><path d="M1003.63 156.65L1008.04 164L1003.63 171.35L999.22 164Z" stroke-linejoin="miter" fill="#00bfbf" stroke="#000" stroke-width="1.9"/><path d="M1028.79 157.75L1033.2 165.1L1028.79 172.45L1024.37 165.1Z" stroke-linejoin="miter" fill="#00bfbf" stroke="#000" stroke-width="1.9"/><path d="M1053.94 158.45L1058.35 165.8L1053.94 173.15L1049.53 165.8Z" stroke-linejoin="miter" fill="#00bfbf" stroke="#000" stroke-width="1.9"/><path d="M1079.1 159.65L1083.51 167L1079.1 174.35L1074.68 167Z" stroke-linejoin="miter" fill="#00bfbf" stroke="#000" stroke-width="1.9"/><path d="M1104.25 161.05L1108.66 168.4L1104.25 175.75L1099.84 168.4Z" stroke-linejoin="miter" fill="#00bfbf" stroke="#000" stroke-width="1.9"/><path d="M1129.4 162.25L1133.82 169.6L1129.4 176.95L1124.99 169.6Z" stroke-linejoin="miter" fill="#00bfbf" stroke="#000" stroke-width="1.9"/><path d="M1154.56 163.55L1158.97 170.9L1154.56 178.25L1150.15 170.9Z" stroke-linejoin="miter" fill="#00bfbf" stroke="#000" stroke-width="1.9"/><path d="M1179.71 164.95L1184.13 172.3L1179.71 179.65L1175.3 172.3Z" stroke-linejoin="miter" fill="#00bfbf" stroke="#000" stroke-width="1.9"/><path d="M1204.87 166.05L1209.28 173.4L1204.87 180.75L1200.46 173.4Z" stroke-linejoin="miter" fill="#00bfbf" stroke="#000" stroke-width="1.9"/><path d="M1230.03 167.35L1234.44 174.7L1230.03 182.05L1225.61 174.7Z" stroke-linejoin="miter" fill="#00bfbf" stroke="#000" stroke-width="1.9"/><path d="M1255.18 168.15L1259.59 175.5L1255.18 182.85L1250.77 175.5Z" stroke-linejoin="miter" fill="#00bfbf" stroke="#000" stroke-width="1.9"/><path d="M1280.34 168.55L1284.75 175.9L1280.34 183.25L1275.92 175.9Z" stroke-linejoin="miter" fill="#00bfbf" stroke="#000" stroke-width="1.9"/><path d="M1305.49 168.85L1309.9 176.2L1305.49 183.55L1301.08 176.2Z" stroke-linejoin="miter" fill="#00bfbf" stroke="#000" stroke-width="1.9"/><path d="M1330.64 169.25L1335.06 176.6L1330.64 183.95L1326.23 176.6Z" stroke-linejoin="miter" fill="#00bfbf" stroke="#000" stroke-width="1.9"/></g>
<polyline points="852.7,69 877.86,63.8 903.01,57.6 928.16,54 953.32,54.4 978.48,54 1003.63,55 1028.79,55.3 1053.94,55.3 1079.1,55.5 1104.25,55.6 1129.4,55.8 1154.56,56 1179.71,56.5 1204.87,56.8 1230.03,57.2 1255.18,57.5 1280.34,57.5 1305.49,57.5 1330.64,57.5" fill="none" stroke="#bf00bf" stroke-width="3.9" stroke-linejoin="round"/>
<g><circle cx="852.7" cy="69" r="5.2" fill="#bf00bf" stroke="#000" stroke-width="1.9"/><circle cx="877.86" cy="63.8" r="5.2" fill="#bf00bf" stroke="#000" stroke-width="1.9"/><circle cx="903.01" cy="57.6" r="5.2" fill="#bf00bf" stroke="#000" stroke-width="1.9"/><circle cx="928.16" cy="54" r="5.2" fill="#bf00bf" stroke="#000" stroke-width="1.9"/><circle cx="953.32" cy="54.4" r="5.2" fill="#bf00bf" stroke="#000" stroke-width="1.9"/><circle cx="978.48" cy="54" r="5.2" fill="#bf00bf" stroke="#000" stroke-width="1.9"/><circle cx="1003.63" cy="55" r="5.2" fill="#bf00bf" stroke="#000" stroke-width="1.9"/><circle cx="1028.79" cy="55.3" r="5.2" fill="#bf00bf" stroke="#000" stroke-width="1.9"/><circle cx="1053.94" cy="55.3" r="5.2" fill="#bf00bf" stroke="#000" stroke-width="1.9"/><circle cx="1079.1" cy="55.5" r="5.2" fill="#bf00bf" stroke="#000" stroke-width="1.9"/><circle cx="1104.25" cy="55.6" r="5.2" fill="#bf00bf" stroke="#000" stroke-width="1.9"/><circle cx="1129.4" cy="55.8" r="5.2" fill="#bf00bf" stroke="#000" stroke-width="1.9"/><circle cx="1154.56" cy="56" r="5.2" fill="#bf00bf" stroke="#000" stroke-width="1.9"/><circle cx="1179.71" cy="56.5" r="5.2" fill="#bf00bf" stroke="#000" stroke-width="1.9"/><circle cx="1204.87" cy="56.8" r="5.2" fill="#bf00bf" stroke="#000" stroke-width="1.9"/><circle cx="1230.03" cy="57.2" r="5.2" fill="#bf00bf" stroke="#000" stroke-width="1.9"/><circle cx="1255.18" cy="57.5" r="5.2" fill="#bf00bf" stroke="#000" stroke-width="1.9"/><circle cx="1280.34" cy="57.5" r="5.2" fill="#bf00bf" stroke="#000" stroke-width="1.9"/><circle cx="1305.49" cy="57.5" r="5.2" fill="#bf00bf" stroke="#000" stroke-width="1.9"/><circle cx="1330.64" cy="57.5" r="5.2" fill="#bf00bf" stroke="#000" stroke-width="1.9"/></g>
<polyline points="852.7,106.8 877.86,109 903.01,105.4 928.16,102.3 953.32,103.4 978.48,102 1003.63,103.5 1028.79,104.1 1053.94,104.1 1079.1,104.5 1104.25,105 1129.4,106 1154.56,106.5 1179.71,107.4 1204.87,108.1 1230.03,108.6 1255.18,109.3 1280.34,109.6 1305.49,109.6 1330.64,109.6" fill="none" stroke="#bf00bf" stroke-width="3.9" stroke-linejoin="round"/>
<g><rect x="847.5" y="101.6" width="10.4" height="10.4" fill="#bf00bf" stroke="#000" stroke-width="1.9"/><rect x="872.65" y="103.8" width="10.4" height="10.4" fill="#bf00bf" stroke="#000" stroke-width="1.9"/><rect x="897.81" y="100.2" width="10.4" height="10.4" fill="#bf00bf" stroke="#000" stroke-width="1.9"/><rect x="922.96" y="97.1" width="10.4" height="10.4" fill="#bf00bf" stroke="#000" stroke-width="1.9"/><rect x="948.12" y="98.2" width="10.4" height="10.4" fill="#bf00bf" stroke="#000" stroke-width="1.9"/><rect x="973.27" y="96.8" width="10.4" height="10.4" fill="#bf00bf" stroke="#000" stroke-width="1.9"/><rect x="998.43" y="98.3" width="10.4" height="10.4" fill="#bf00bf" stroke="#000" stroke-width="1.9"/><rect x="1023.59" y="98.9" width="10.4" height="10.4" fill="#bf00bf" stroke="#000" stroke-width="1.9"/><rect x="1048.74" y="98.9" width="10.4" height="10.4" fill="#bf00bf" stroke="#000" stroke-width="1.9"/><rect x="1073.89" y="99.3" width="10.4" height="10.4" fill="#bf00bf" stroke="#000" stroke-width="1.9"/><rect x="1099.05" y="99.8" width="10.4" height="10.4" fill="#bf00bf" stroke="#000" stroke-width="1.9"/><rect x="1124.2" y="100.8" width="10.4" height="10.4" fill="#bf00bf" stroke="#000" stroke-width="1.9"/><rect x="1149.36" y="101.3" width="10.4" height="10.4" fill="#bf00bf" stroke="#000" stroke-width="1.9"/><rect x="1174.51" y="102.2" width="10.4" height="10.4" fill="#bf00bf" stroke="#000" stroke-width="1.9"/><rect x="1199.67" y="102.9" width="10.4" height="10.4" fill="#bf00bf" stroke="#000" stroke-width="1.9"/><rect x="1224.83" y="103.4" width="10.4" height="10.4" fill="#bf00bf" stroke="#000" stroke-width="1.9"/><rect x="1249.98" y="104.1" width="10.4" height="10.4" fill="#bf00bf" stroke="#000" stroke-width="1.9"/><rect x="1275.13" y="104.4" width="10.4" height="10.4" fill="#bf00bf" stroke="#000" stroke-width="1.9"/><rect x="1300.29" y="104.4" width="10.4" height="10.4" fill="#bf00bf" stroke="#000" stroke-width="1.9"/><rect x="1325.44" y="104.4" width="10.4" height="10.4" fill="#bf00bf" stroke="#000" stroke-width="1.9"/></g>
<polyline points="852.7,147.6 877.86,148.7 903.01,143.3 928.16,140 953.32,142.9 978.48,142.7 1003.63,145.3 1028.79,146.2 1053.94,147.2 1079.1,148.5 1104.25,150 1129.4,151.8 1154.56,153.6 1179.71,155 1204.87,156.6 1230.03,158.1 1255.18,159 1280.34,159.8 1305.49,160.3 1330.64,161" fill="none" stroke="#bf00bf" stroke-width="3.9" stroke-linejoin="round"/>
<g><path d="M852.7 140.25L857.11 147.6L852.7 154.95L848.29 147.6Z" stroke-linejoin="miter" fill="#bf00bf" stroke="#000" stroke-width="1.9"/><path d="M877.86 141.35L882.27 148.7L877.86 156.05L873.44 148.7Z" stroke-linejoin="miter" fill="#bf00bf" stroke="#000" stroke-width="1.9"/><path d="M903.01 135.95L907.42 143.3L903.01 150.65L898.6 143.3Z" stroke-linejoin="miter" fill="#bf00bf" stroke="#000" stroke-width="1.9"/><path d="M928.16 132.65L932.58 140L928.16 147.35L923.75 140Z" stroke-linejoin="miter" fill="#bf00bf" stroke="#000" stroke-width="1.9"/><path d="M953.32 135.55L957.73 142.9L953.32 150.25L948.91 142.9Z" stroke-linejoin="miter" fill="#bf00bf" stroke="#000" stroke-width="1.9"/><path d="M978.48 135.35L982.89 142.7L978.48 150.05L974.06 142.7Z" stroke-linejoin="miter" fill="#bf00bf" stroke="#000" stroke-width="1.9"/><path d="M1003.63 137.95L1008.04 145.3L1003.63 152.65L999.22 145.3Z" stroke-linejoin="miter" fill="#bf00bf" stroke="#000" stroke-width="1.9"/><path d="M1028.79 138.85L1033.2 146.2L1028.79 153.55L1024.37 146.2Z" stroke-linejoin="miter" fill="#bf00bf" stroke="#000" stroke-width="1.9"/><path d="M1053.94 139.85L1058.35 147.2L1053.94 154.55L1049.53 147.2Z" stroke-linejoin="miter" fill="#bf00bf" stroke="#000" stroke-width="1.9"/><path d="M1079.1 141.15L1083.51 148.5L1079.1 155.85L1074.68 148.5Z" stroke-linejoin="miter" fill="#bf00bf" stroke="#000" stroke-width="1.9"/><path d="M1104.25 142.65L1108.66 150L1104.25 157.35L1099.84 150Z" stroke-linejoin="miter" fill="#bf00bf" stroke="#000" stroke-width="1.9"/><path d="M1129.4 144.45L1133.82 151.8L1129.4 159.15L1124.99 151.8Z" stroke-linejoin="miter" fill="#bf00bf" stroke="#000" stroke-width="1.9"/><path d="M1154.56 146.25L1158.97 153.6L1154.56 160.95L1150.15 153.6Z" stroke-linejoin="miter" fill="#bf00bf" stroke="#000" stroke-width="1.9"/><path d="M1179.71 147.65L1184.13 155L1179.71 162.35L1175.3 155Z" stroke-linejoin="miter" fill="#bf00bf" stroke="#000" stroke-width="1.9"/><path d="M1204.87 149.25L1209.28 156.6L1204.87 163.95L1200.46 156.6Z" stroke-linejoin="miter" fill="#bf00bf" stroke="#000" stroke-width="1.9"/><path d="M1230.03 150.75L1234.44 158.1L1230.03 165.45L1225.61 158.1Z" stroke-linejoin="miter" fill="#bf00bf" stroke="#000" stroke-width="1.9"/><path d="M1255.18 151.65L1259.59 159L1255.18 166.35L1250.77 159Z" stroke-linejoin="miter" fill="#bf00bf" stroke="#000" stroke-width="1.9"/><path d="M1280.34 152.45L1284.75 159.8L1280.34 167.15L1275.92 159.8Z" stroke-linejoin="miter" fill="#bf00bf" stroke="#000" stroke-width="1.9"/><path d="M1305.49 152.95L1309.9 160.3L1305.49 167.65L1301.08 160.3Z" stroke-linejoin="miter" fill="#bf00bf" stroke="#000" stroke-width="1.9"/><path d="M1330.64 153.65L1335.06 161L1330.64 168.35L1326.23 161Z" stroke-linejoin="miter" fill="#bf00bf" stroke="#000" stroke-width="1.9"/></g>
</g>
<path d="M852.7 568.7v-14.5M852.7 14.3v14.5M915.59 568.7v-14.5M915.59 14.3v14.5M978.48 568.7v-14.5M978.48 14.3v14.5M1041.36 568.7v-14.5M1041.36 14.3v14.5M1104.25 568.7v-14.5M1104.25 14.3v14.5M1167.14 568.7v-14.5M1167.14 14.3v14.5M1230.03 568.7v-14.5M1230.03 14.3v14.5M1292.91 568.7v-14.5M1292.91 14.3v14.5M1355.8 568.7v-14.5M1355.8 14.3v14.5M852.7 14.3h13.8M1355.8 14.3h-13.8M852.7 106.7h13.8M1355.8 106.7h-13.8M852.7 199.1h13.8M1355.8 199.1h-13.8M852.7 291.5h13.8M1355.8 291.5h-13.8M852.7 383.9h13.8M1355.8 383.9h-13.8M852.7 476.3h13.8M1355.8 476.3h-13.8M852.7 568.7h13.8M1355.8 568.7h-13.8" stroke="#000" stroke-width="1.6" fill="none"/>
<rect x="852.7" y="14.3" width="503.1" height="554.4" fill="none" stroke="#000" stroke-width="3.7"/>
<g font-family="'DejaVu Sans','Liberation Sans',sans-serif" font-size="27.8" fill="#000" stroke="#000" stroke-width="0.3">
<g text-anchor="middle">
<text x="852.7" y="603.9">0</text>
<text x="915.59" y="603.9">5</text>
<text x="978.48" y="603.9">10</text>
<text x="1041.36" y="603.9">15</text>
<text x="1104.25" y="603.9">20</text>
<text x="1167.14" y="603.9">25</text>
<text x="1230.03" y="603.9">30</text>
<text x="1292.91" y="603.9">35</text>
<text x="1355.8" y="603.9">40</text>
</g><g text-anchor="end">
<text x="838.6" y="22.4">0.98</text>
<text x="838.6" y="114.8">0.97</text>
<text x="838.6" y="207.2">0.96</text>
<text x="838.6" y="299.6">0.95</text>
<text x="838.6" y="392">0.94</text>
<text x="838.6" y="484.4">0.93</text>
<text x="838.6" y="576.8">0.92</text>
</g></g>
<text x="1104.25" y="653" text-anchor="middle" font-family="'DejaVu Sans','Liberation Sans',sans-serif" font-size="35" stroke="#000" stroke-width="0.25">snapshot</text>
<g transform="translate(751.1 0) rotate(-90)" fill="#000">
<text transform="translate(-366.5 0) scale(1.17 1)" font-family="'Liberation Serif','DejaVu Serif',serif" font-style="italic" font-size="37">R</text>
<text x="-337.1" y="-13.6" font-family="'Liberation Serif','DejaVu Serif',serif" font-size="25">2</text>
<text x="-323.1" y="0" font-family="'DejaVu Sans','Liberation Sans',sans-serif" font-size="35.3" stroke="#000" stroke-width="0.25">-score</text>
</g>
<g font-family="'Liberation Serif','DejaVu Serif',serif" font-size="41" fill="#000">
<text x="78.8" y="742" font-weight="bold" textLength="49" lengthAdjust="spacingAndGlyphs">(a)</text>
<text x="140.2" y="742" textLength="209.6" lengthAdjust="spacingAndGlyphs">Quarter-five</text>
<text x="360.2" y="742" textLength="73.4" lengthAdjust="spacingAndGlyphs">spot</text>
<text x="449.4" y="742" textLength="140.6" lengthAdjust="spacingAndGlyphs">problem</text>
<text x="826" y="742" font-weight="bold" textLength="50.4" lengthAdjust="spacingAndGlyphs">(b)</text>
<text x="890.2" y="742" textLength="141" lengthAdjust="spacingAndGlyphs">Uniform</text>
<text x="1044.6" y="742" textLength="70.4" lengthAdjust="spacingAndGlyphs">flow</text>
<text x="1127.4" y="742" textLength="140.6" lengthAdjust="spacingAndGlyphs">problem</text>
</g>
<rect x="1.8" y="787.8" width="1382" height="226.4" fill="#fff" stroke="#000" stroke-width="3.9"/>
<g font-family="'DejaVu Sans','Liberation Sans',sans-serif" font-size="36.85" fill="#000" stroke="#000" stroke-width="0.3">
<path d="M27.3 817.4H78.7" fill="none" stroke="#0000ff" stroke-width="4.3"/>
<circle cx="27.3" cy="817.4" r="10.8" fill="#0000ff" stroke="#000" stroke-width="2.1"/>
<circle cx="78.7" cy="817.4" r="10.8" fill="#0000ff" stroke="#000" stroke-width="2.1"/>
<text x="119.3" y="830.9">[64, 0]</text>
<path d="M27.3 871.3H78.7" fill="none" stroke="#0000ff" stroke-width="4.3"/>
<rect x="16.5" y="860.5" width="21.6" height="21.6" fill="#0000ff" stroke="#000" stroke-width="2.1"/>
<rect x="67.9" y="860.5" width="21.6" height="21.6" fill="#0000ff" stroke="#000" stroke-width="2.1"/>
<text x="119.3" y="884.8">[64, 0.1]</text>
<path d="M27.3 925.1H78.7" fill="none" stroke="#0000ff" stroke-width="4.3"/>
<path d="M27.3 909.83L36.46 925.1L27.3 940.37L18.14 925.1Z" stroke-linejoin="miter" fill="#0000ff" stroke="#000" stroke-width="2.1"/>
<path d="M78.7 909.83L87.86 925.1L78.7 940.37L69.54 925.1Z" stroke-linejoin="miter" fill="#0000ff" stroke="#000" stroke-width="2.1"/>
<text x="119.3" y="938.6">[64, 0.4]</text>
<path d="M27.3 978.9H78.7" fill="none" stroke="#008000" stroke-width="4.3"/>
<circle cx="27.3" cy="978.9" r="10.8" fill="#008000" stroke="#000" stroke-width="2.1"/>
<circle cx="78.7" cy="978.9" r="10.8" fill="#008000" stroke="#000" stroke-width="2.1"/>
<text x="119.3" y="992.4">[128, 0]</text>
<path d="M360.8 817.4H412.2" fill="none" stroke="#008000" stroke-width="4.3"/>
<rect x="350" y="806.6" width="21.6" height="21.6" fill="#008000" stroke="#000" stroke-width="2.1"/>
<rect x="401.4" y="806.6" width="21.6" height="21.6" fill="#008000" stroke="#000" stroke-width="2.1"/>
<text x="452.3" y="830.9">[128, 0.1]</text>
<path d="M360.8 871.3H412.2" fill="none" stroke="#008000" stroke-width="4.3"/>
<path d="M360.8 856.03L369.96 871.3L360.8 886.57L351.64 871.3Z" stroke-linejoin="miter" fill="#008000" stroke="#000" stroke-width="2.1"/>
<path d="M412.2 856.03L421.36 871.3L412.2 886.57L403.04 871.3Z" stroke-linejoin="miter" fill="#008000" stroke="#000" stroke-width="2.1"/>
<text x="452.3" y="884.8">[128, 0.4]</text>
<path d="M360.8 925.1H412.2" fill="none" stroke="#ff0000" stroke-width="4.3"/>
<circle cx="360.8" cy="925.1" r="10.8" fill="#ff0000" stroke="#000" stroke-width="2.1"/>
<circle cx="412.2" cy="925.1" r="10.8" fill="#ff0000" stroke="#000" stroke-width="2.1"/>
<text x="452.3" y="938.6">[256, 0]</text>
<path d="M360.8 978.9H412.2" fill="none" stroke="#ff0000" stroke-width="4.3"/>
<rect x="350" y="968.1" width="21.6" height="21.6" fill="#ff0000" stroke="#000" stroke-width="2.1"/>
<rect x="401.4" y="968.1" width="21.6" height="21.6" fill="#ff0000" stroke="#000" stroke-width="2.1"/>
<text x="452.3" y="992.4">[256, 0.1]</text>
<path d="M717.1 817.4H768.5" fill="none" stroke="#ff0000" stroke-width="4.3"/>
<path d="M717.1 802.13L726.26 817.4L717.1 832.67L707.94 817.4Z" stroke-linejoin="miter" fill="#ff0000" stroke="#000" stroke-width="2.1"/>
<path d="M768.5 802.13L777.66 817.4L768.5 832.67L759.34 817.4Z" stroke-linejoin="miter" fill="#ff0000" stroke="#000" stroke-width="2.1"/>
<text x="809" y="830.9">[256, 0.4]</text>
<path d="M717.1 871.3H768.5" fill="none" stroke="#00bfbf" stroke-width="4.3"/>
<circle cx="717.1" cy="871.3" r="10.8" fill="#00bfbf" stroke="#000" stroke-width="2.1"/>
<circle cx="768.5" cy="871.3" r="10.8" fill="#00bfbf" stroke="#000" stroke-width="2.1"/>
<text x="809" y="884.8">[512, 0]</text>
<path d="M717.1 925.1H768.5" fill="none" stroke="#00bfbf" stroke-width="4.3"/>
<rect x="706.3" y="914.3" width="21.6" height="21.6" fill="#00bfbf" stroke="#000" stroke-width="2.1"/>
<rect x="757.7" y="914.3" width="21.6" height="21.6" fill="#00bfbf" stroke="#000" stroke-width="2.1"/>
<text x="809" y="938.6">[512, 0.1]</text>
<path d="M717.1 978.9H768.5" fill="none" stroke="#00bfbf" stroke-width="4.3"/>
<path d="M717.1 963.63L726.26 978.9L717.1 994.17L707.94 978.9Z" stroke-linejoin="miter" fill="#00bfbf" stroke="#000" stroke-width="2.1"/>
<path d="M768.5 963.63L777.66 978.9L768.5 994.17L759.34 978.9Z" stroke-linejoin="miter" fill="#00bfbf" stroke="#000" stroke-width="2.1"/>
<text x="809" y="992.4">[512, 0.4]</text>
<path d="M1073.5 817.4H1124.9" fill="none" stroke="#bf00bf" stroke-width="4.3"/>
<circle cx="1073.5" cy="817.4" r="10.8" fill="#bf00bf" stroke="#000" stroke-width="2.1"/>
<circle cx="1124.9" cy="817.4" r="10.8" fill="#bf00bf" stroke="#000" stroke-width="2.1"/>
<text x="1164.8" y="830.9">[1024, 0]</text>
<path d="M1073.5 871.3H1124.9" fill="none" stroke="#bf00bf" stroke-width="4.3"/>
<rect x="1062.7" y="860.5" width="21.6" height="21.6" fill="#bf00bf" stroke="#000" stroke-width="2.1"/>
<rect x="1114.1" y="860.5" width="21.6" height="21.6" fill="#bf00bf" stroke="#000" stroke-width="2.1"/>
<text x="1164.8" y="884.8">[1024, 0.1]</text>
<path d="M1073.5 925.1H1124.9" fill="none" stroke="#bf00bf" stroke-width="4.3"/>
<path d="M1073.5 909.83L1082.66 925.1L1073.5 940.37L1064.34 925.1Z" stroke-linejoin="miter" fill="#bf00bf" stroke="#000" stroke-width="2.1"/>
<path d="M1124.9 909.83L1134.06 925.1L1124.9 940.37L1115.74 925.1Z" stroke-linejoin="miter" fill="#bf00bf" stroke="#000" stroke-width="2.1"/>
<text x="1164.8" y="938.6">[1024, 0.4]</text>
</g>
</svg>
</body></html>
